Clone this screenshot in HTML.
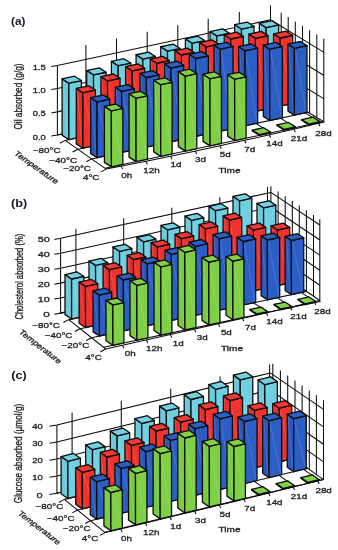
<!DOCTYPE html>
<html><head><meta charset="utf-8"><title>Figure</title>
<style>html,body{margin:0;padding:0;background:#fff}svg{display:block}</style></head>
<body>
<svg width="338" height="550" viewBox="0 0 338 550" font-family='"Liberation Sans", sans-serif'>
<rect width="338" height="550" fill="#fff"/>
<g>
<polygon points="57.4,135.3 270.5,89.5 270.5,19.8 57.4,65.8" fill="#fff"/>
<polygon points="270.5,89.5 324.2,122 324,52.4 270.5,19.8" fill="#fff"/>
<polygon points="57.4,135.3 270.5,89.5 324.2,122 106.2,169.1" fill="#fff"/>
<polyline points="51.3,66.6 57.4,65.56 270.5,19.8" fill="none" stroke="#0c0c0c" stroke-width="1.05"/>
<text x="45.8" y="70.1" font-size="7.7" text-anchor="end" fill="#222" textLength="13" lengthAdjust="spacingAndGlyphs" stroke="#222" stroke-width="0.3">1.5</text>
<polyline points="51.3,89.6 57.4,88.56 270.5,42.9" fill="none" stroke="#0c0c0c" stroke-width="1.05"/>
<text x="45.8" y="93.1" font-size="7.7" text-anchor="end" fill="#222" textLength="13" lengthAdjust="spacingAndGlyphs" stroke="#222" stroke-width="0.3">1.0</text>
<polyline points="51.3,112.9 57.4,111.86 270.5,66.3" fill="none" stroke="#0c0c0c" stroke-width="1.05"/>
<text x="45.8" y="116.4" font-size="7.7" text-anchor="end" fill="#222" textLength="13" lengthAdjust="spacingAndGlyphs" stroke="#222" stroke-width="0.3">0.5</text>
<polyline points="51.3,136 57.4,134.96 270.5,89.5" fill="none" stroke="#0c0c0c" stroke-width="1.05"/>
<text x="45.8" y="139.5" font-size="7.7" text-anchor="end" fill="#222" textLength="13" lengthAdjust="spacingAndGlyphs" stroke="#222" stroke-width="0.3">0.0</text>
<line x1="57.4" y1="65.56" x2="57.4" y2="134.96" stroke="#0c0c0c" stroke-width="1.05"/>
<line x1="85.9" y1="44.94" x2="85.9" y2="128.88" stroke="#0c0c0c" stroke-width="1.05"/>
<line x1="116.5" y1="38.37" x2="116.5" y2="122.35" stroke="#0c0c0c" stroke-width="1.05"/>
<line x1="147.2" y1="31.78" x2="147.2" y2="115.8" stroke="#0c0c0c" stroke-width="1.05"/>
<line x1="177.8" y1="25.21" x2="177.8" y2="109.28" stroke="#0c0c0c" stroke-width="1.05"/>
<line x1="208.2" y1="18.68" x2="208.2" y2="102.79" stroke="#0c0c0c" stroke-width="1.05"/>
<line x1="239.3" y1="12" x2="239.3" y2="96.16" stroke="#0c0c0c" stroke-width="1.05"/>
<line x1="270.5" y1="5.3" x2="270.5" y2="89.5" stroke="#0c0c0c" stroke-width="1.05"/>
<line x1="281.2" y1="12.82" x2="281.2" y2="95.98" stroke="#0c0c0c" stroke-width="1.05"/>
<line x1="288.2" y1="17.09" x2="288.2" y2="100.21" stroke="#0c0c0c" stroke-width="1.05"/>
<line x1="295.3" y1="21.41" x2="295.3" y2="104.51" stroke="#0c0c0c" stroke-width="1.05"/>
<line x1="302.5" y1="25.8" x2="302.5" y2="108.87" stroke="#0c0c0c" stroke-width="1.05"/>
<line x1="309.6" y1="30.13" x2="309.6" y2="113.16" stroke="#0c0c0c" stroke-width="1.05"/>
<line x1="316.8" y1="34.51" x2="316.8" y2="117.52" stroke="#0c0c0c" stroke-width="1.05"/>
<line x1="323.8" y1="38.78" x2="323.8" y2="121.76" stroke="#0c0c0c" stroke-width="1.05"/>
<line x1="270.5" y1="19.8" x2="324" y2="52.4" stroke="#0c0c0c" stroke-width="1.05"/>
<line x1="270.5" y1="42.9" x2="324.07" y2="75.47" stroke="#0c0c0c" stroke-width="1.05"/>
<line x1="270.5" y1="66.3" x2="324.13" y2="98.83" stroke="#0c0c0c" stroke-width="1.05"/>
<line x1="270.5" y1="89.5" x2="324.2" y2="122" stroke="#0c0c0c" stroke-width="1.05"/>
<line x1="57.4" y1="134.96" x2="270.5" y2="89.5" stroke="#0c0c0c" stroke-width="1.05"/>
<polyline points="106.2,169.1 124.37,165.54 142.53,161.92 160.7,158.22 178.87,154.47 197.03,150.64 215.2,146.75 233.37,142.79 251.53,138.77 269.7,134.68 287.87,130.52 306.03,126.29 324.2,122" fill="none" stroke="#0c0c0c" stroke-width="1.05"/>
<line x1="65.17" y1="140.4" x2="279.25" y2="94.8" stroke="#0c0c0c" stroke-width="1.05"/>
<line x1="65.17" y1="140.4" x2="106.2" y2="169.1" stroke="#0c0c0c" stroke-width="1.05"/>
<line x1="65.17" y1="140.4" x2="59.87" y2="143.2" stroke="#0c0c0c" stroke-width="1.05"/>
<line x1="77.86" y1="149.27" x2="293.41" y2="103.36" stroke="#0c0c0c" stroke-width="1.05"/>
<line x1="77.86" y1="149.27" x2="72.56" y2="152.07" stroke="#0c0c0c" stroke-width="1.05"/>
<line x1="91.6" y1="158.89" x2="308.07" y2="112.24" stroke="#0c0c0c" stroke-width="1.05"/>
<line x1="91.6" y1="158.89" x2="86.3" y2="161.69" stroke="#0c0c0c" stroke-width="1.05"/>
<line x1="105.01" y1="168.27" x2="323.55" y2="121.61" stroke="#0c0c0c" stroke-width="1.05"/>
<line x1="106.2" y1="169.1" x2="100.9" y2="171.9" stroke="#0c0c0c" stroke-width="1.05"/>
<line x1="71.88" y1="131.87" x2="122.8" y2="164.47" stroke="#0c0c0c" stroke-width="1.05"/>
<line x1="121.3" y1="166.15" x2="122.7" y2="169.15" stroke="#0c0c0c" stroke-width="1.05"/>
<line x1="96.54" y1="126.61" x2="147.46" y2="159.2" stroke="#0c0c0c" stroke-width="1.05"/>
<line x1="145.96" y1="161.23" x2="147.36" y2="164.23" stroke="#0c0c0c" stroke-width="1.05"/>
<line x1="121.21" y1="121.35" x2="172.12" y2="153.94" stroke="#0c0c0c" stroke-width="1.05"/>
<line x1="170.62" y1="156.18" x2="172.02" y2="159.18" stroke="#0c0c0c" stroke-width="1.05"/>
<line x1="145.87" y1="116.09" x2="196.78" y2="148.67" stroke="#0c0c0c" stroke-width="1.05"/>
<line x1="195.28" y1="151.01" x2="196.68" y2="154.01" stroke="#0c0c0c" stroke-width="1.05"/>
<line x1="170.53" y1="110.83" x2="221.44" y2="143.41" stroke="#0c0c0c" stroke-width="1.05"/>
<line x1="219.94" y1="145.72" x2="221.34" y2="148.72" stroke="#0c0c0c" stroke-width="1.05"/>
<line x1="195.2" y1="105.56" x2="246.1" y2="138.14" stroke="#0c0c0c" stroke-width="1.05"/>
<line x1="244.6" y1="140.31" x2="246" y2="143.31" stroke="#0c0c0c" stroke-width="1.05"/>
<line x1="219.86" y1="100.3" x2="270.76" y2="132.88" stroke="#0c0c0c" stroke-width="1.05"/>
<line x1="269.26" y1="134.77" x2="270.66" y2="137.77" stroke="#0c0c0c" stroke-width="1.05"/>
<line x1="244.53" y1="95.04" x2="295.42" y2="127.61" stroke="#0c0c0c" stroke-width="1.05"/>
<line x1="293.92" y1="129.12" x2="295.32" y2="132.12" stroke="#0c0c0c" stroke-width="1.05"/>
<line x1="269.19" y1="89.78" x2="320.08" y2="122.35" stroke="#0c0c0c" stroke-width="1.05"/>
<line x1="318.58" y1="123.33" x2="319.98" y2="126.33" stroke="#0c0c0c" stroke-width="1.05"/>
<polygon points="259.38,93.23 266.18,97.58 266.18,27.6 259.38,23.25" fill="#6ac9db" stroke="#0c0c0c" stroke-width="1.3" stroke-linejoin="round"/>
<polygon points="266.18,97.58 278.68,94.92 278.68,24.94 266.18,27.6" fill="#70cfe0" stroke="#0c0c0c" stroke-width="1.3" stroke-linejoin="round"/>
<polygon points="259.38,23.25 266.18,27.6 278.68,24.94 271.88,20.59" fill="#74d1e1" stroke="#0c0c0c" stroke-width="1.3" stroke-linejoin="round"/>
<path d="M266.98 29.1L277.88 93.92M260.18 24.75L265.38 96.08" stroke="#fff" stroke-opacity="0.22" stroke-width="0.6" fill="none"/>
<polygon points="234.72,98.48 241.52,102.83 241.52,29.05 234.72,24.7" fill="#6ac9db" stroke="#0c0c0c" stroke-width="1.3" stroke-linejoin="round"/>
<polygon points="241.52,102.83 254.02,100.17 254.02,26.39 241.52,29.05" fill="#70cfe0" stroke="#0c0c0c" stroke-width="1.3" stroke-linejoin="round"/>
<polygon points="234.72,24.7 241.52,29.05 254.02,26.39 247.22,22.04" fill="#74d1e1" stroke="#0c0c0c" stroke-width="1.3" stroke-linejoin="round"/>
<path d="M242.32 30.55L253.22 99.17M235.52 26.2L240.72 101.33" stroke="#fff" stroke-opacity="0.22" stroke-width="0.6" fill="none"/>
<polygon points="210.06,103.73 216.86,108.08 216.86,35.9 210.06,31.55" fill="#6ac9db" stroke="#0c0c0c" stroke-width="1.3" stroke-linejoin="round"/>
<polygon points="216.86,108.08 229.36,105.42 229.36,33.24 216.86,35.9" fill="#70cfe0" stroke="#0c0c0c" stroke-width="1.3" stroke-linejoin="round"/>
<polygon points="210.06,31.55 216.86,35.9 229.36,33.24 222.56,28.89" fill="#74d1e1" stroke="#0c0c0c" stroke-width="1.3" stroke-linejoin="round"/>
<path d="M217.66 37.4L228.56 104.42M210.86 33.05L216.06 106.58" stroke="#fff" stroke-opacity="0.22" stroke-width="0.6" fill="none"/>
<polygon points="185.4,108.99 192.2,113.34 192.2,43.2 185.4,38.85" fill="#6ac9db" stroke="#0c0c0c" stroke-width="1.3" stroke-linejoin="round"/>
<polygon points="192.2,113.34 204.7,110.67 204.7,40.54 192.2,43.2" fill="#70cfe0" stroke="#0c0c0c" stroke-width="1.3" stroke-linejoin="round"/>
<polygon points="185.4,38.85 192.2,43.2 204.7,40.54 197.9,36.19" fill="#74d1e1" stroke="#0c0c0c" stroke-width="1.3" stroke-linejoin="round"/>
<path d="M193 44.7L203.9 109.67M186.2 40.35L191.4 111.84" stroke="#fff" stroke-opacity="0.22" stroke-width="0.6" fill="none"/>
<polygon points="160.74,114.24 167.54,118.59 167.54,51.1 160.74,46.75" fill="#6ac9db" stroke="#0c0c0c" stroke-width="1.3" stroke-linejoin="round"/>
<polygon points="167.54,118.59 180.04,115.93 180.04,48.44 167.54,51.1" fill="#70cfe0" stroke="#0c0c0c" stroke-width="1.3" stroke-linejoin="round"/>
<polygon points="160.74,46.75 167.54,51.1 180.04,48.44 173.24,44.09" fill="#74d1e1" stroke="#0c0c0c" stroke-width="1.3" stroke-linejoin="round"/>
<path d="M168.34 52.6L179.24 114.93M161.54 48.25L166.74 117.09" stroke="#fff" stroke-opacity="0.22" stroke-width="0.6" fill="none"/>
<polygon points="136.08,119.49 142.88,123.84 142.88,59.1 136.08,54.75" fill="#6ac9db" stroke="#0c0c0c" stroke-width="1.3" stroke-linejoin="round"/>
<polygon points="142.88,123.84 155.38,121.18 155.38,56.44 142.88,59.1" fill="#70cfe0" stroke="#0c0c0c" stroke-width="1.3" stroke-linejoin="round"/>
<polygon points="136.08,54.75 142.88,59.1 155.38,56.44 148.58,52.09" fill="#74d1e1" stroke="#0c0c0c" stroke-width="1.3" stroke-linejoin="round"/>
<path d="M143.68 60.6L154.58 120.18M136.88 56.25L142.08 122.34" stroke="#fff" stroke-opacity="0.22" stroke-width="0.6" fill="none"/>
<polygon points="111.42,124.74 118.22,129.09 118.22,65.7 111.42,61.35" fill="#6ac9db" stroke="#0c0c0c" stroke-width="1.3" stroke-linejoin="round"/>
<polygon points="118.22,129.09 130.72,126.43 130.72,63.04 118.22,65.7" fill="#70cfe0" stroke="#0c0c0c" stroke-width="1.3" stroke-linejoin="round"/>
<polygon points="111.42,61.35 118.22,65.7 130.72,63.04 123.92,58.69" fill="#74d1e1" stroke="#0c0c0c" stroke-width="1.3" stroke-linejoin="round"/>
<path d="M119.02 67.2L129.92 125.43M112.22 62.85L117.42 127.59" stroke="#fff" stroke-opacity="0.22" stroke-width="0.6" fill="none"/>
<polygon points="86.76,130 93.56,134.35 93.56,74.9 86.76,70.55" fill="#6ac9db" stroke="#0c0c0c" stroke-width="1.3" stroke-linejoin="round"/>
<polygon points="93.56,134.35 106.06,131.68 106.06,72.24 93.56,74.9" fill="#70cfe0" stroke="#0c0c0c" stroke-width="1.3" stroke-linejoin="round"/>
<polygon points="86.76,70.55 93.56,74.9 106.06,72.24 99.26,67.89" fill="#74d1e1" stroke="#0c0c0c" stroke-width="1.3" stroke-linejoin="round"/>
<path d="M94.36 76.4L105.26 130.68M87.56 72.05L92.76 132.85" stroke="#fff" stroke-opacity="0.22" stroke-width="0.6" fill="none"/>
<polygon points="62.1,135.25 68.9,139.6 68.9,83.2 62.1,78.85" fill="#6ac9db" stroke="#0c0c0c" stroke-width="1.3" stroke-linejoin="round"/>
<polygon points="68.9,139.6 81.4,136.94 81.4,80.54 68.9,83.2" fill="#70cfe0" stroke="#0c0c0c" stroke-width="1.3" stroke-linejoin="round"/>
<polygon points="62.1,78.85 68.9,83.2 81.4,80.54 74.6,76.19" fill="#74d1e1" stroke="#0c0c0c" stroke-width="1.3" stroke-linejoin="round"/>
<path d="M69.7 84.7L80.6 135.94M62.9 80.35L68.1 138.1" stroke="#fff" stroke-opacity="0.22" stroke-width="0.6" fill="none"/>
<polygon points="273.58,101.96 280.18,106.18 280.18,38 273.58,33.78" fill="#ea2f2a" stroke="#0c0c0c" stroke-width="1.3" stroke-linejoin="round"/>
<polygon points="280.18,106.18 292.68,103.52 292.68,35.34 280.18,38" fill="#f0332d" stroke="#0c0c0c" stroke-width="1.3" stroke-linejoin="round"/>
<polygon points="273.58,33.78 280.18,38 292.68,35.34 286.08,31.11" fill="#f23a34" stroke="#0c0c0c" stroke-width="1.3" stroke-linejoin="round"/>
<path d="M280.98 39.5L291.88 102.52M274.38 35.28L279.38 104.68" stroke="#fff" stroke-opacity="0.22" stroke-width="0.6" fill="none"/>
<polygon points="248.92,107.21 255.52,111.43 255.52,38.3 248.92,34.08" fill="#ea2f2a" stroke="#0c0c0c" stroke-width="1.3" stroke-linejoin="round"/>
<polygon points="255.52,111.43 268.02,108.77 268.02,35.64 255.52,38.3" fill="#f0332d" stroke="#0c0c0c" stroke-width="1.3" stroke-linejoin="round"/>
<polygon points="248.92,34.08 255.52,38.3 268.02,35.64 261.42,31.41" fill="#f23a34" stroke="#0c0c0c" stroke-width="1.3" stroke-linejoin="round"/>
<path d="M256.32 39.8L267.22 107.77M249.72 35.58L254.72 109.93" stroke="#fff" stroke-opacity="0.22" stroke-width="0.6" fill="none"/>
<polygon points="224.26,112.46 230.86,116.68 230.86,39 224.26,34.78" fill="#ea2f2a" stroke="#0c0c0c" stroke-width="1.3" stroke-linejoin="round"/>
<polygon points="230.86,116.68 243.36,114.02 243.36,36.34 230.86,39" fill="#f0332d" stroke="#0c0c0c" stroke-width="1.3" stroke-linejoin="round"/>
<polygon points="224.26,34.78 230.86,39 243.36,36.34 236.76,32.11" fill="#f23a34" stroke="#0c0c0c" stroke-width="1.3" stroke-linejoin="round"/>
<path d="M231.66 40.5L242.56 113.02M225.06 36.28L230.06 115.18" stroke="#fff" stroke-opacity="0.22" stroke-width="0.6" fill="none"/>
<polygon points="199.6,117.71 206.2,121.94 206.2,46.8 199.6,42.58" fill="#ea2f2a" stroke="#0c0c0c" stroke-width="1.3" stroke-linejoin="round"/>
<polygon points="206.2,121.94 218.7,119.27 218.7,44.14 206.2,46.8" fill="#f0332d" stroke="#0c0c0c" stroke-width="1.3" stroke-linejoin="round"/>
<polygon points="199.6,42.58 206.2,46.8 218.7,44.14 212.1,39.91" fill="#f23a34" stroke="#0c0c0c" stroke-width="1.3" stroke-linejoin="round"/>
<path d="M207 48.3L217.9 118.27M200.4 44.08L205.4 120.44" stroke="#fff" stroke-opacity="0.22" stroke-width="0.6" fill="none"/>
<polygon points="174.94,122.97 181.54,127.19 181.54,55 174.94,50.78" fill="#ea2f2a" stroke="#0c0c0c" stroke-width="1.3" stroke-linejoin="round"/>
<polygon points="181.54,127.19 194.04,124.53 194.04,52.34 181.54,55" fill="#f0332d" stroke="#0c0c0c" stroke-width="1.3" stroke-linejoin="round"/>
<polygon points="174.94,50.78 181.54,55 194.04,52.34 187.44,48.11" fill="#f23a34" stroke="#0c0c0c" stroke-width="1.3" stroke-linejoin="round"/>
<path d="M182.34 56.5L193.24 123.53M175.74 52.28L180.74 125.69" stroke="#fff" stroke-opacity="0.22" stroke-width="0.6" fill="none"/>
<polygon points="150.28,128.22 156.88,132.44 156.88,63.25 150.28,59.03" fill="#ea2f2a" stroke="#0c0c0c" stroke-width="1.3" stroke-linejoin="round"/>
<polygon points="156.88,132.44 169.38,129.78 169.38,60.59 156.88,63.25" fill="#f0332d" stroke="#0c0c0c" stroke-width="1.3" stroke-linejoin="round"/>
<polygon points="150.28,59.03 156.88,63.25 169.38,60.59 162.78,56.36" fill="#f23a34" stroke="#0c0c0c" stroke-width="1.3" stroke-linejoin="round"/>
<path d="M157.68 64.75L168.58 128.78M151.08 60.53L156.08 130.94" stroke="#fff" stroke-opacity="0.22" stroke-width="0.6" fill="none"/>
<polygon points="125.62,133.47 132.22,137.69 132.22,70.9 125.62,66.68" fill="#ea2f2a" stroke="#0c0c0c" stroke-width="1.3" stroke-linejoin="round"/>
<polygon points="132.22,137.69 144.72,135.03 144.72,68.24 132.22,70.9" fill="#f0332d" stroke="#0c0c0c" stroke-width="1.3" stroke-linejoin="round"/>
<polygon points="125.62,66.68 132.22,70.9 144.72,68.24 138.12,64.01" fill="#f23a34" stroke="#0c0c0c" stroke-width="1.3" stroke-linejoin="round"/>
<path d="M133.02 72.4L143.92 134.03M126.42 68.18L131.42 136.19" stroke="#fff" stroke-opacity="0.22" stroke-width="0.6" fill="none"/>
<polygon points="100.96,138.72 107.56,142.95 107.56,80.9 100.96,76.68" fill="#ea2f2a" stroke="#0c0c0c" stroke-width="1.3" stroke-linejoin="round"/>
<polygon points="107.56,142.95 120.06,140.28 120.06,78.24 107.56,80.9" fill="#f0332d" stroke="#0c0c0c" stroke-width="1.3" stroke-linejoin="round"/>
<polygon points="100.96,76.68 107.56,80.9 120.06,78.24 113.46,74.01" fill="#f23a34" stroke="#0c0c0c" stroke-width="1.3" stroke-linejoin="round"/>
<path d="M108.36 82.4L119.26 139.28M101.76 78.18L106.76 141.45" stroke="#fff" stroke-opacity="0.22" stroke-width="0.6" fill="none"/>
<polygon points="76.3,143.98 82.9,148.2 82.9,92.7 76.3,88.48" fill="#ea2f2a" stroke="#0c0c0c" stroke-width="1.3" stroke-linejoin="round"/>
<polygon points="82.9,148.2 95.4,145.54 95.4,90.04 82.9,92.7" fill="#f0332d" stroke="#0c0c0c" stroke-width="1.3" stroke-linejoin="round"/>
<polygon points="76.3,88.48 82.9,92.7 95.4,90.04 88.8,85.81" fill="#f23a34" stroke="#0c0c0c" stroke-width="1.3" stroke-linejoin="round"/>
<path d="M83.7 94.2L94.6 144.54M77.1 89.98L82.1 146.7" stroke="#fff" stroke-opacity="0.22" stroke-width="0.6" fill="none"/>
<polygon points="287.98,111.09 294.38,115.19 294.38,48.3 287.98,44.2" fill="#2858bc" stroke="#0c0c0c" stroke-width="1.3" stroke-linejoin="round"/>
<polygon points="294.38,115.19 306.98,112.47 306.98,45.58 294.38,48.3" fill="#2c5fc6" stroke="#0c0c0c" stroke-width="1.3" stroke-linejoin="round"/>
<polygon points="287.98,44.2 294.38,48.3 306.98,45.58 300.58,41.49" fill="#2c5ec4" stroke="#0c0c0c" stroke-width="1.3" stroke-linejoin="round"/>
<path d="M295.18 49.8L306.18 111.47M288.78 45.7L293.58 113.69" stroke="#fff" stroke-opacity="0.22" stroke-width="0.6" fill="none"/>
<polygon points="263.32,116.4 269.72,120.5 269.72,49.2 263.32,45.1" fill="#2858bc" stroke="#0c0c0c" stroke-width="1.3" stroke-linejoin="round"/>
<polygon points="269.72,120.5 282.32,117.79 282.32,46.48 269.72,49.2" fill="#2c5fc6" stroke="#0c0c0c" stroke-width="1.3" stroke-linejoin="round"/>
<polygon points="263.32,45.1 269.72,49.2 282.32,46.48 275.92,42.39" fill="#2c5ec4" stroke="#0c0c0c" stroke-width="1.3" stroke-linejoin="round"/>
<path d="M270.52 50.7L281.52 116.79M264.12 46.6L268.92 119" stroke="#fff" stroke-opacity="0.22" stroke-width="0.6" fill="none"/>
<polygon points="238.66,121.72 245.06,125.81 245.06,50.8 238.66,46.7" fill="#2858bc" stroke="#0c0c0c" stroke-width="1.3" stroke-linejoin="round"/>
<polygon points="245.06,125.81 257.66,123.1 257.66,48.08 245.06,50.8" fill="#2c5fc6" stroke="#0c0c0c" stroke-width="1.3" stroke-linejoin="round"/>
<polygon points="238.66,46.7 245.06,50.8 257.66,48.08 251.26,43.99" fill="#2c5ec4" stroke="#0c0c0c" stroke-width="1.3" stroke-linejoin="round"/>
<path d="M245.86 52.3L256.86 122.1M239.46 48.2L244.26 124.31" stroke="#fff" stroke-opacity="0.22" stroke-width="0.6" fill="none"/>
<polygon points="214,127.03 220.4,131.13 220.4,49.2 214,45.1" fill="#2858bc" stroke="#0c0c0c" stroke-width="1.3" stroke-linejoin="round"/>
<polygon points="220.4,131.13 233,128.41 233,46.48 220.4,49.2" fill="#2c5fc6" stroke="#0c0c0c" stroke-width="1.3" stroke-linejoin="round"/>
<polygon points="214,45.1 220.4,49.2 233,46.48 226.6,42.39" fill="#2c5ec4" stroke="#0c0c0c" stroke-width="1.3" stroke-linejoin="round"/>
<path d="M221.2 50.7L232.2 127.41M214.8 46.6L219.6 129.63" stroke="#fff" stroke-opacity="0.22" stroke-width="0.6" fill="none"/>
<polygon points="189.34,132.35 195.74,136.44 195.74,58.5 189.34,54.4" fill="#2858bc" stroke="#0c0c0c" stroke-width="1.3" stroke-linejoin="round"/>
<polygon points="195.74,136.44 208.34,133.73 208.34,55.78 195.74,58.5" fill="#2c5fc6" stroke="#0c0c0c" stroke-width="1.3" stroke-linejoin="round"/>
<polygon points="189.34,54.4 195.74,58.5 208.34,55.78 201.94,51.69" fill="#2c5ec4" stroke="#0c0c0c" stroke-width="1.3" stroke-linejoin="round"/>
<path d="M196.54 60L207.54 132.73M190.14 55.9L194.94 134.94" stroke="#fff" stroke-opacity="0.22" stroke-width="0.6" fill="none"/>
<polygon points="164.68,137.66 171.08,141.76 171.08,68 164.68,63.9" fill="#2858bc" stroke="#0c0c0c" stroke-width="1.3" stroke-linejoin="round"/>
<polygon points="171.08,141.76 183.68,139.04 183.68,65.28 171.08,68" fill="#2c5fc6" stroke="#0c0c0c" stroke-width="1.3" stroke-linejoin="round"/>
<polygon points="164.68,63.9 171.08,68 183.68,65.28 177.28,61.19" fill="#2c5ec4" stroke="#0c0c0c" stroke-width="1.3" stroke-linejoin="round"/>
<path d="M171.88 69.5L182.88 138.04M165.48 65.4L170.28 140.26" stroke="#fff" stroke-opacity="0.22" stroke-width="0.6" fill="none"/>
<polygon points="140.02,142.98 146.42,147.07 146.42,77.5 140.02,73.4" fill="#2858bc" stroke="#0c0c0c" stroke-width="1.3" stroke-linejoin="round"/>
<polygon points="146.42,147.07 159.02,144.36 159.02,74.78 146.42,77.5" fill="#2c5fc6" stroke="#0c0c0c" stroke-width="1.3" stroke-linejoin="round"/>
<polygon points="140.02,73.4 146.42,77.5 159.02,74.78 152.62,70.69" fill="#2c5ec4" stroke="#0c0c0c" stroke-width="1.3" stroke-linejoin="round"/>
<path d="M147.22 79L158.22 143.36M140.82 74.9L145.62 145.57" stroke="#fff" stroke-opacity="0.22" stroke-width="0.6" fill="none"/>
<polygon points="115.36,148.29 121.76,152.39 121.76,91.4 115.36,87.3" fill="#2858bc" stroke="#0c0c0c" stroke-width="1.3" stroke-linejoin="round"/>
<polygon points="121.76,152.39 134.36,149.67 134.36,88.68 121.76,91.4" fill="#2c5fc6" stroke="#0c0c0c" stroke-width="1.3" stroke-linejoin="round"/>
<polygon points="115.36,87.3 121.76,91.4 134.36,88.68 127.96,84.59" fill="#2c5ec4" stroke="#0c0c0c" stroke-width="1.3" stroke-linejoin="round"/>
<path d="M122.56 92.9L133.56 148.67M116.16 88.8L120.96 150.89" stroke="#fff" stroke-opacity="0.22" stroke-width="0.6" fill="none"/>
<polygon points="90.7,153.6 97.1,157.7 97.1,101.8 90.7,97.7" fill="#2858bc" stroke="#0c0c0c" stroke-width="1.3" stroke-linejoin="round"/>
<polygon points="97.1,157.7 109.7,154.98 109.7,99.08 97.1,101.8" fill="#2c5fc6" stroke="#0c0c0c" stroke-width="1.3" stroke-linejoin="round"/>
<polygon points="90.7,97.7 97.1,101.8 109.7,99.08 103.3,94.99" fill="#2c5ec4" stroke="#0c0c0c" stroke-width="1.3" stroke-linejoin="round"/>
<path d="M97.9 103.3L108.9 153.98M91.5 99.2L96.3 156.2" stroke="#fff" stroke-opacity="0.22" stroke-width="0.6" fill="none"/>
<polygon points="301.68,120.3 308.68,124.78 308.68,124.08 301.68,119.6" fill="#79ca3f" stroke="#0c0c0c" stroke-width="1.3" stroke-linejoin="round"/>
<polygon points="308.68,124.78 320.08,122.35 320.08,121.65 308.68,124.08" fill="#7fd045" stroke="#0c0c0c" stroke-width="1.3" stroke-linejoin="round"/>
<polygon points="301.68,119.6 308.68,124.08 320.08,121.65 313.08,117.17" fill="#82d249" stroke="#0c0c0c" stroke-width="1.3" stroke-linejoin="round"/>
<polygon points="277.02,125.57 284.02,130.05 284.02,129.35 277.02,124.87" fill="#79ca3f" stroke="#0c0c0c" stroke-width="1.3" stroke-linejoin="round"/>
<polygon points="284.02,130.05 295.42,127.61 295.42,126.91 284.02,129.35" fill="#7fd045" stroke="#0c0c0c" stroke-width="1.3" stroke-linejoin="round"/>
<polygon points="277.02,124.87 284.02,129.35 295.42,126.91 288.42,122.43" fill="#82d249" stroke="#0c0c0c" stroke-width="1.3" stroke-linejoin="round"/>
<polygon points="252.36,130.83 259.36,135.31 259.36,134.61 252.36,130.13" fill="#79ca3f" stroke="#0c0c0c" stroke-width="1.3" stroke-linejoin="round"/>
<polygon points="259.36,135.31 270.76,132.88 270.76,132.18 259.36,134.61" fill="#7fd045" stroke="#0c0c0c" stroke-width="1.3" stroke-linejoin="round"/>
<polygon points="252.36,130.13 259.36,134.61 270.76,132.18 263.76,127.7" fill="#82d249" stroke="#0c0c0c" stroke-width="1.3" stroke-linejoin="round"/>
<polygon points="227.7,136.1 234.7,140.58 234.7,79.2 227.7,74.72" fill="#79ca3f" stroke="#0c0c0c" stroke-width="1.3" stroke-linejoin="round"/>
<polygon points="234.7,140.58 246.1,138.14 246.1,76.77 234.7,79.2" fill="#7fd045" stroke="#0c0c0c" stroke-width="1.3" stroke-linejoin="round"/>
<polygon points="227.7,74.72 234.7,79.2 246.1,76.77 239.1,72.29" fill="#82d249" stroke="#0c0c0c" stroke-width="1.3" stroke-linejoin="round"/>
<path d="M235.5 80.7L245.3 137.14M228.5 76.22L233.9 139.08" stroke="#fff" stroke-opacity="0.22" stroke-width="0.6" fill="none"/>
<polygon points="203.04,141.36 210.04,145.84 210.04,78.7 203.04,74.22" fill="#79ca3f" stroke="#0c0c0c" stroke-width="1.3" stroke-linejoin="round"/>
<polygon points="210.04,145.84 221.44,143.41 221.44,76.27 210.04,78.7" fill="#7fd045" stroke="#0c0c0c" stroke-width="1.3" stroke-linejoin="round"/>
<polygon points="203.04,74.22 210.04,78.7 221.44,76.27 214.44,71.79" fill="#82d249" stroke="#0c0c0c" stroke-width="1.3" stroke-linejoin="round"/>
<path d="M210.84 80.2L220.64 142.41M203.84 75.72L209.24 144.34" stroke="#fff" stroke-opacity="0.22" stroke-width="0.6" fill="none"/>
<polygon points="178.38,146.63 185.38,151.11 185.38,76.1 178.38,71.62" fill="#79ca3f" stroke="#0c0c0c" stroke-width="1.3" stroke-linejoin="round"/>
<polygon points="185.38,151.11 196.78,148.67 196.78,73.67 185.38,76.1" fill="#7fd045" stroke="#0c0c0c" stroke-width="1.3" stroke-linejoin="round"/>
<polygon points="178.38,71.62 185.38,76.1 196.78,73.67 189.78,69.19" fill="#82d249" stroke="#0c0c0c" stroke-width="1.3" stroke-linejoin="round"/>
<path d="M186.18 77.6L195.98 147.67M179.18 73.12L184.58 149.61" stroke="#fff" stroke-opacity="0.22" stroke-width="0.6" fill="none"/>
<polygon points="153.72,151.89 160.72,156.37 160.72,84.7 153.72,80.22" fill="#79ca3f" stroke="#0c0c0c" stroke-width="1.3" stroke-linejoin="round"/>
<polygon points="160.72,156.37 172.12,153.94 172.12,82.27 160.72,84.7" fill="#7fd045" stroke="#0c0c0c" stroke-width="1.3" stroke-linejoin="round"/>
<polygon points="153.72,80.22 160.72,84.7 172.12,82.27 165.12,77.79" fill="#82d249" stroke="#0c0c0c" stroke-width="1.3" stroke-linejoin="round"/>
<path d="M161.52 86.2L171.32 152.94M154.52 81.72L159.92 154.87" stroke="#fff" stroke-opacity="0.22" stroke-width="0.6" fill="none"/>
<polygon points="129.06,157.16 136.06,161.64 136.06,98.2 129.06,93.72" fill="#79ca3f" stroke="#0c0c0c" stroke-width="1.3" stroke-linejoin="round"/>
<polygon points="136.06,161.64 147.46,159.2 147.46,95.77 136.06,98.2" fill="#7fd045" stroke="#0c0c0c" stroke-width="1.3" stroke-linejoin="round"/>
<polygon points="129.06,93.72 136.06,98.2 147.46,95.77 140.46,91.29" fill="#82d249" stroke="#0c0c0c" stroke-width="1.3" stroke-linejoin="round"/>
<path d="M136.86 99.7L146.66 158.2M129.86 95.22L135.26 160.14" stroke="#fff" stroke-opacity="0.22" stroke-width="0.6" fill="none"/>
<polygon points="104.4,162.42 111.4,166.9 111.4,110.9 104.4,106.42" fill="#79ca3f" stroke="#0c0c0c" stroke-width="1.3" stroke-linejoin="round"/>
<polygon points="111.4,166.9 122.8,164.47 122.8,108.47 111.4,110.9" fill="#7fd045" stroke="#0c0c0c" stroke-width="1.3" stroke-linejoin="round"/>
<polygon points="104.4,106.42 111.4,110.9 122.8,108.47 115.8,103.99" fill="#82d249" stroke="#0c0c0c" stroke-width="1.3" stroke-linejoin="round"/>
<path d="M112.2 112.4L122 163.47M105.2 107.92L110.6 165.4" stroke="#fff" stroke-opacity="0.22" stroke-width="0.6" fill="none"/>
<text x="126.8" y="178.05" font-size="7.7" text-anchor="middle" fill="#222" textLength="10.96" lengthAdjust="spacingAndGlyphs" stroke="#222" stroke-width="0.3">0h</text>
<text x="151.4" y="172.75" font-size="7.7" text-anchor="middle" fill="#222" textLength="16.44" lengthAdjust="spacingAndGlyphs" stroke="#222" stroke-width="0.3">12h</text>
<text x="176" y="167.45" font-size="7.7" text-anchor="middle" fill="#222" textLength="10.96" lengthAdjust="spacingAndGlyphs" stroke="#222" stroke-width="0.3">1d</text>
<text x="200.6" y="162.15" font-size="7.7" text-anchor="middle" fill="#222" textLength="10.96" lengthAdjust="spacingAndGlyphs" stroke="#222" stroke-width="0.3">3d</text>
<text x="225.2" y="156.85" font-size="7.7" text-anchor="middle" fill="#222" textLength="10.96" lengthAdjust="spacingAndGlyphs" stroke="#222" stroke-width="0.3">5d</text>
<text x="249.8" y="151.55" font-size="7.7" text-anchor="middle" fill="#222" textLength="10.96" lengthAdjust="spacingAndGlyphs" stroke="#222" stroke-width="0.3">7d</text>
<text x="274.4" y="146.25" font-size="7.7" text-anchor="middle" fill="#222" textLength="16.44" lengthAdjust="spacingAndGlyphs" stroke="#222" stroke-width="0.3">14d</text>
<text x="299" y="140.95" font-size="7.7" text-anchor="middle" fill="#222" textLength="16.44" lengthAdjust="spacingAndGlyphs" stroke="#222" stroke-width="0.3">21d</text>
<text x="323.6" y="135.65" font-size="7.7" text-anchor="middle" fill="#222" textLength="16.44" lengthAdjust="spacingAndGlyphs" stroke="#222" stroke-width="0.3">28d</text>
<text x="229.6" y="172.95" font-size="7.7" text-anchor="middle" fill="#222" textLength="22" lengthAdjust="spacingAndGlyphs" stroke="#222" stroke-width="0.3">Time</text>
<text x="60.6" y="153.35" font-size="7.7" text-anchor="end" fill="#222" textLength="27.78" lengthAdjust="spacingAndGlyphs" stroke="#222" stroke-width="0.3">−80°C</text>
<text x="77.1" y="162.75" font-size="7.7" text-anchor="end" fill="#222" textLength="27.78" lengthAdjust="spacingAndGlyphs" stroke="#222" stroke-width="0.3">−40°C</text>
<text x="91" y="171.35" font-size="7.7" text-anchor="end" fill="#222" textLength="27.78" lengthAdjust="spacingAndGlyphs" stroke="#222" stroke-width="0.3">−20°C</text>
<text x="99.5" y="179.95" font-size="7.7" text-anchor="end" fill="#222" textLength="16.54" lengthAdjust="spacingAndGlyphs" stroke="#222" stroke-width="0.3">4°C</text>
<text x="0" y="2.75" font-size="7.7" text-anchor="middle" fill="#222" textLength="51.5" lengthAdjust="spacingAndGlyphs" stroke="#222" stroke-width="0.3" transform="translate(36.6 167.3) rotate(35.3) skewX(-12)">Temperature</text>
<text x="0" y="0" font-size="11.6" text-anchor="middle" fill="#222" textLength="66.2" lengthAdjust="spacingAndGlyphs" stroke="#222" stroke-width="0.35" transform="translate(21.6 96.5) rotate(-90)">Oil absorbed (g/g)</text>
<text x="11" y="25.4" font-size="10.2" text-anchor="start" fill="#1c1c28" textLength="14.4" lengthAdjust="spacingAndGlyphs" font-weight="bold">(a)</text>
</g>
<g>
<polygon points="60.6,314 270.9,267 270.9,192.4 60.6,239.3" fill="#fff"/>
<polygon points="270.9,267 319.8,300.5 319.8,225 270.9,192.4" fill="#fff"/>
<polygon points="60.6,314 270.9,267 319.8,300.5 105.7,349" fill="#fff"/>
<polyline points="54.3,239.4 60.6,238.33 270.9,192.4" fill="none" stroke="#0c0c0c" stroke-width="1.05"/>
<text x="49.7" y="241.9" font-size="7.7" text-anchor="end" fill="#222" textLength="12" lengthAdjust="spacingAndGlyphs" stroke="#222" stroke-width="0.3">50</text>
<polyline points="54.3,254.3 60.6,253.23 270.9,207.26" fill="none" stroke="#0c0c0c" stroke-width="1.05"/>
<text x="49.7" y="256.8" font-size="7.7" text-anchor="end" fill="#222" textLength="12" lengthAdjust="spacingAndGlyphs" stroke="#222" stroke-width="0.3">40</text>
<polyline points="54.3,269.3 60.6,268.23 270.9,222.22" fill="none" stroke="#0c0c0c" stroke-width="1.05"/>
<text x="49.7" y="271.8" font-size="7.7" text-anchor="end" fill="#222" textLength="12" lengthAdjust="spacingAndGlyphs" stroke="#222" stroke-width="0.3">30</text>
<polyline points="54.3,284.2 60.6,283.13 270.9,237.08" fill="none" stroke="#0c0c0c" stroke-width="1.05"/>
<text x="49.7" y="286.7" font-size="7.7" text-anchor="end" fill="#222" textLength="12" lengthAdjust="spacingAndGlyphs" stroke="#222" stroke-width="0.3">20</text>
<polyline points="54.3,299.1 60.6,298.03 270.9,251.94" fill="none" stroke="#0c0c0c" stroke-width="1.05"/>
<text x="49.7" y="301.6" font-size="7.7" text-anchor="end" fill="#222" textLength="12" lengthAdjust="spacingAndGlyphs" stroke="#222" stroke-width="0.3">10</text>
<polyline points="54.3,314.2 60.6,313.13 270.9,267" fill="none" stroke="#0c0c0c" stroke-width="1.05"/>
<text x="49.7" y="316.7" font-size="7.7" text-anchor="end" fill="#222" textLength="6.5" lengthAdjust="spacingAndGlyphs" stroke="#222" stroke-width="0.3">0</text>
<line x1="60.6" y1="238.33" x2="60.6" y2="313.13" stroke="#0c0c0c" stroke-width="1.05"/>
<line x1="75.9" y1="228.79" x2="75.9" y2="309.77" stroke="#0c0c0c" stroke-width="1.05"/>
<line x1="123.7" y1="218.35" x2="123.7" y2="299.29" stroke="#0c0c0c" stroke-width="1.05"/>
<line x1="171.8" y1="207.84" x2="171.8" y2="288.74" stroke="#0c0c0c" stroke-width="1.05"/>
<line x1="219.8" y1="197.36" x2="219.8" y2="278.21" stroke="#0c0c0c" stroke-width="1.05"/>
<line x1="267.5" y1="186.94" x2="267.5" y2="267.75" stroke="#0c0c0c" stroke-width="1.05"/>
<line x1="270.9" y1="186.2" x2="270.9" y2="267" stroke="#0c0c0c" stroke-width="1.05"/>
<line x1="278.1" y1="191.4" x2="278.1" y2="271.93" stroke="#0c0c0c" stroke-width="1.05"/>
<line x1="285.2" y1="196.13" x2="285.2" y2="276.8" stroke="#0c0c0c" stroke-width="1.05"/>
<line x1="292.3" y1="200.87" x2="292.3" y2="281.66" stroke="#0c0c0c" stroke-width="1.05"/>
<line x1="299.3" y1="205.53" x2="299.3" y2="286.46" stroke="#0c0c0c" stroke-width="1.05"/>
<line x1="306.4" y1="210.27" x2="306.4" y2="291.32" stroke="#0c0c0c" stroke-width="1.05"/>
<line x1="313.5" y1="215" x2="313.5" y2="296.18" stroke="#0c0c0c" stroke-width="1.05"/>
<line x1="319.8" y1="219.2" x2="319.8" y2="300.5" stroke="#0c0c0c" stroke-width="1.05"/>
<line x1="270.9" y1="192.4" x2="319.8" y2="225" stroke="#0c0c0c" stroke-width="1.05"/>
<line x1="270.9" y1="207.26" x2="319.8" y2="240.04" stroke="#0c0c0c" stroke-width="1.05"/>
<line x1="270.9" y1="222.22" x2="319.8" y2="255.18" stroke="#0c0c0c" stroke-width="1.05"/>
<line x1="270.9" y1="237.08" x2="319.8" y2="270.22" stroke="#0c0c0c" stroke-width="1.05"/>
<line x1="270.9" y1="251.94" x2="319.8" y2="285.26" stroke="#0c0c0c" stroke-width="1.05"/>
<line x1="270.9" y1="267" x2="319.8" y2="300.5" stroke="#0c0c0c" stroke-width="1.05"/>
<line x1="60.6" y1="313.13" x2="270.9" y2="267" stroke="#0c0c0c" stroke-width="1.05"/>
<polyline points="105.7,349 123.54,345.05 141.38,341.08 159.23,337.1 177.07,333.1 194.91,329.08 212.75,325.05 230.59,321 248.43,316.93 266.28,312.85 284.12,308.75 301.96,304.63 319.8,300.5" fill="none" stroke="#0c0c0c" stroke-width="1.05"/>
<line x1="68.76" y1="319.62" x2="280.14" y2="273.33" stroke="#0c0c0c" stroke-width="1.05"/>
<line x1="68.76" y1="319.62" x2="105.7" y2="349" stroke="#0c0c0c" stroke-width="1.05"/>
<line x1="68.76" y1="319.62" x2="63.46" y2="322.42" stroke="#0c0c0c" stroke-width="1.05"/>
<line x1="80.14" y1="328.67" x2="293.14" y2="282.23" stroke="#0c0c0c" stroke-width="1.05"/>
<line x1="80.14" y1="328.67" x2="74.84" y2="331.47" stroke="#0c0c0c" stroke-width="1.05"/>
<line x1="91.5" y1="337.7" x2="306.48" y2="291.37" stroke="#0c0c0c" stroke-width="1.05"/>
<line x1="91.5" y1="337.7" x2="86.2" y2="340.5" stroke="#0c0c0c" stroke-width="1.05"/>
<line x1="103.55" y1="347.29" x2="320.75" y2="301.15" stroke="#0c0c0c" stroke-width="1.05"/>
<line x1="105.7" y1="349" x2="100.4" y2="351.8" stroke="#0c0c0c" stroke-width="1.05"/>
<line x1="74.18" y1="310.15" x2="123.9" y2="342.96" stroke="#0c0c0c" stroke-width="1.05"/>
<line x1="122.4" y1="345.3" x2="123.8" y2="348.3" stroke="#0c0c0c" stroke-width="1.05"/>
<line x1="97.99" y1="304.93" x2="147.9" y2="337.87" stroke="#0c0c0c" stroke-width="1.05"/>
<line x1="146.4" y1="339.96" x2="147.8" y2="342.96" stroke="#0c0c0c" stroke-width="1.05"/>
<line x1="121.8" y1="299.7" x2="171.9" y2="332.77" stroke="#0c0c0c" stroke-width="1.05"/>
<line x1="170.4" y1="334.6" x2="171.8" y2="337.6" stroke="#0c0c0c" stroke-width="1.05"/>
<line x1="145.61" y1="294.48" x2="195.9" y2="327.67" stroke="#0c0c0c" stroke-width="1.05"/>
<line x1="194.4" y1="329.2" x2="195.8" y2="332.2" stroke="#0c0c0c" stroke-width="1.05"/>
<line x1="169.42" y1="289.26" x2="219.9" y2="322.57" stroke="#0c0c0c" stroke-width="1.05"/>
<line x1="218.4" y1="323.77" x2="219.8" y2="326.77" stroke="#0c0c0c" stroke-width="1.05"/>
<line x1="193.23" y1="284.04" x2="243.9" y2="317.48" stroke="#0c0c0c" stroke-width="1.05"/>
<line x1="242.4" y1="318.31" x2="243.8" y2="321.31" stroke="#0c0c0c" stroke-width="1.05"/>
<line x1="217.04" y1="278.81" x2="267.9" y2="312.38" stroke="#0c0c0c" stroke-width="1.05"/>
<line x1="266.4" y1="312.82" x2="267.8" y2="315.82" stroke="#0c0c0c" stroke-width="1.05"/>
<line x1="240.85" y1="273.59" x2="291.9" y2="307.28" stroke="#0c0c0c" stroke-width="1.05"/>
<line x1="290.4" y1="307.3" x2="291.8" y2="310.3" stroke="#0c0c0c" stroke-width="1.05"/>
<line x1="264.66" y1="268.37" x2="315.9" y2="302.18" stroke="#0c0c0c" stroke-width="1.05"/>
<line x1="314.4" y1="301.75" x2="315.8" y2="304.75" stroke="#0c0c0c" stroke-width="1.05"/>
<polygon points="257,272.6 263.6,276.95 263.6,207.8 257,203.44" fill="#6ac9db" stroke="#0c0c0c" stroke-width="1.3" stroke-linejoin="round"/>
<polygon points="263.6,276.95 275.8,274.28 275.8,205.13 263.6,207.8" fill="#70cfe0" stroke="#0c0c0c" stroke-width="1.3" stroke-linejoin="round"/>
<polygon points="257,203.44 263.6,207.8 275.8,205.13 269.2,200.77" fill="#74d1e1" stroke="#0c0c0c" stroke-width="1.3" stroke-linejoin="round"/>
<path d="M264.4 209.3L275 273.28M257.8 204.94L262.8 275.45" stroke="#fff" stroke-opacity="0.22" stroke-width="0.6" fill="none"/>
<polygon points="233,277.85 239.6,282.21 239.6,200.8 233,196.44" fill="#6ac9db" stroke="#0c0c0c" stroke-width="1.3" stroke-linejoin="round"/>
<polygon points="239.6,282.21 251.8,279.54 251.8,198.13 239.6,200.8" fill="#70cfe0" stroke="#0c0c0c" stroke-width="1.3" stroke-linejoin="round"/>
<polygon points="233,196.44 239.6,200.8 251.8,198.13 245.2,193.77" fill="#74d1e1" stroke="#0c0c0c" stroke-width="1.3" stroke-linejoin="round"/>
<path d="M240.4 202.3L251 278.54M233.8 197.94L238.8 280.71" stroke="#fff" stroke-opacity="0.22" stroke-width="0.6" fill="none"/>
<polygon points="209,283.11 215.6,287.46 215.6,210.7 209,206.34" fill="#6ac9db" stroke="#0c0c0c" stroke-width="1.3" stroke-linejoin="round"/>
<polygon points="215.6,287.46 227.8,284.79 227.8,208.03 215.6,210.7" fill="#70cfe0" stroke="#0c0c0c" stroke-width="1.3" stroke-linejoin="round"/>
<polygon points="209,206.34 215.6,210.7 227.8,208.03 221.2,203.67" fill="#74d1e1" stroke="#0c0c0c" stroke-width="1.3" stroke-linejoin="round"/>
<path d="M216.4 212.2L227 283.79M209.8 207.84L214.8 285.96" stroke="#fff" stroke-opacity="0.22" stroke-width="0.6" fill="none"/>
<polygon points="185,288.36 191.6,292.72 191.6,220.4 185,216.04" fill="#6ac9db" stroke="#0c0c0c" stroke-width="1.3" stroke-linejoin="round"/>
<polygon points="191.6,292.72 203.8,290.05 203.8,217.73 191.6,220.4" fill="#70cfe0" stroke="#0c0c0c" stroke-width="1.3" stroke-linejoin="round"/>
<polygon points="185,216.04 191.6,220.4 203.8,217.73 197.2,213.37" fill="#74d1e1" stroke="#0c0c0c" stroke-width="1.3" stroke-linejoin="round"/>
<path d="M192.4 221.9L203 289.05M185.8 217.54L190.8 291.22" stroke="#fff" stroke-opacity="0.22" stroke-width="0.6" fill="none"/>
<polygon points="161,293.62 167.6,297.98 167.6,229.8 161,225.44" fill="#6ac9db" stroke="#0c0c0c" stroke-width="1.3" stroke-linejoin="round"/>
<polygon points="167.6,297.98 179.8,295.3 179.8,227.13 167.6,229.8" fill="#70cfe0" stroke="#0c0c0c" stroke-width="1.3" stroke-linejoin="round"/>
<polygon points="161,225.44 167.6,229.8 179.8,227.13 173.2,222.77" fill="#74d1e1" stroke="#0c0c0c" stroke-width="1.3" stroke-linejoin="round"/>
<path d="M168.4 231.3L179 294.3M161.8 226.94L166.8 296.48" stroke="#fff" stroke-opacity="0.22" stroke-width="0.6" fill="none"/>
<polygon points="137,298.88 143.6,303.23 143.6,241.8 137,237.44" fill="#6ac9db" stroke="#0c0c0c" stroke-width="1.3" stroke-linejoin="round"/>
<polygon points="143.6,303.23 155.8,300.56 155.8,239.13 143.6,241.8" fill="#70cfe0" stroke="#0c0c0c" stroke-width="1.3" stroke-linejoin="round"/>
<polygon points="137,237.44 143.6,241.8 155.8,239.13 149.2,234.77" fill="#74d1e1" stroke="#0c0c0c" stroke-width="1.3" stroke-linejoin="round"/>
<path d="M144.4 243.3L155 299.56M137.8 238.94L142.8 301.73" stroke="#fff" stroke-opacity="0.22" stroke-width="0.6" fill="none"/>
<polygon points="113,304.13 119.6,308.49 119.6,251.3 113,246.94" fill="#6ac9db" stroke="#0c0c0c" stroke-width="1.3" stroke-linejoin="round"/>
<polygon points="119.6,308.49 131.8,305.82 131.8,248.63 119.6,251.3" fill="#70cfe0" stroke="#0c0c0c" stroke-width="1.3" stroke-linejoin="round"/>
<polygon points="113,246.94 119.6,251.3 131.8,248.63 125.2,244.27" fill="#74d1e1" stroke="#0c0c0c" stroke-width="1.3" stroke-linejoin="round"/>
<path d="M120.4 252.8L131 304.82M113.8 248.44L118.8 306.99" stroke="#fff" stroke-opacity="0.22" stroke-width="0.6" fill="none"/>
<polygon points="89,309.39 95.6,313.74 95.6,265.4 89,261.04" fill="#6ac9db" stroke="#0c0c0c" stroke-width="1.3" stroke-linejoin="round"/>
<polygon points="95.6,313.74 107.8,311.07 107.8,262.73 95.6,265.4" fill="#70cfe0" stroke="#0c0c0c" stroke-width="1.3" stroke-linejoin="round"/>
<polygon points="89,261.04 95.6,265.4 107.8,262.73 101.2,258.37" fill="#74d1e1" stroke="#0c0c0c" stroke-width="1.3" stroke-linejoin="round"/>
<path d="M96.4 266.9L107 310.07M89.8 262.54L94.8 312.24" stroke="#fff" stroke-opacity="0.22" stroke-width="0.6" fill="none"/>
<polygon points="65,314.64 71.6,319 71.6,279 65,274.64" fill="#6ac9db" stroke="#0c0c0c" stroke-width="1.3" stroke-linejoin="round"/>
<polygon points="71.6,319 83.8,316.33 83.8,276.33 71.6,279" fill="#70cfe0" stroke="#0c0c0c" stroke-width="1.3" stroke-linejoin="round"/>
<polygon points="65,274.64 71.6,279 83.8,276.33 77.2,271.97" fill="#74d1e1" stroke="#0c0c0c" stroke-width="1.3" stroke-linejoin="round"/>
<path d="M72.4 280.5L83 315.33M65.8 276.14L70.8 317.5" stroke="#fff" stroke-opacity="0.22" stroke-width="0.6" fill="none"/>
<polygon points="271.1,281.42 277.5,285.64 277.5,230 271.1,225.78" fill="#ea2f2a" stroke="#0c0c0c" stroke-width="1.3" stroke-linejoin="round"/>
<polygon points="277.5,285.64 289.7,282.98 289.7,227.34 277.5,230" fill="#f0332d" stroke="#0c0c0c" stroke-width="1.3" stroke-linejoin="round"/>
<polygon points="271.1,225.78 277.5,230 289.7,227.34 283.3,223.12" fill="#f23a34" stroke="#0c0c0c" stroke-width="1.3" stroke-linejoin="round"/>
<path d="M278.3 231.5L288.9 281.98M271.9 227.28L276.7 284.14" stroke="#fff" stroke-opacity="0.22" stroke-width="0.6" fill="none"/>
<polygon points="247.1,286.65 253.5,290.88 253.5,230 247.1,225.78" fill="#ea2f2a" stroke="#0c0c0c" stroke-width="1.3" stroke-linejoin="round"/>
<polygon points="253.5,290.88 265.7,288.22 265.7,227.34 253.5,230" fill="#f0332d" stroke="#0c0c0c" stroke-width="1.3" stroke-linejoin="round"/>
<polygon points="247.1,225.78 253.5,230 265.7,227.34 259.3,223.12" fill="#f23a34" stroke="#0c0c0c" stroke-width="1.3" stroke-linejoin="round"/>
<path d="M254.3 231.5L264.9 287.22M247.9 227.28L252.7 289.38" stroke="#fff" stroke-opacity="0.22" stroke-width="0.6" fill="none"/>
<polygon points="223.1,291.88 229.5,296.11 229.5,220.1 223.1,215.88" fill="#ea2f2a" stroke="#0c0c0c" stroke-width="1.3" stroke-linejoin="round"/>
<polygon points="229.5,296.11 241.7,293.45 241.7,217.44 229.5,220.1" fill="#f0332d" stroke="#0c0c0c" stroke-width="1.3" stroke-linejoin="round"/>
<polygon points="223.1,215.88 229.5,220.1 241.7,217.44 235.3,213.22" fill="#f23a34" stroke="#0c0c0c" stroke-width="1.3" stroke-linejoin="round"/>
<path d="M230.3 221.6L240.9 292.45M223.9 217.38L228.7 294.61" stroke="#fff" stroke-opacity="0.22" stroke-width="0.6" fill="none"/>
<polygon points="199.1,297.12 205.5,301.34 205.5,228.8 199.1,224.58" fill="#ea2f2a" stroke="#0c0c0c" stroke-width="1.3" stroke-linejoin="round"/>
<polygon points="205.5,301.34 217.7,298.68 217.7,226.14 205.5,228.8" fill="#f0332d" stroke="#0c0c0c" stroke-width="1.3" stroke-linejoin="round"/>
<polygon points="199.1,224.58 205.5,228.8 217.7,226.14 211.3,221.92" fill="#f23a34" stroke="#0c0c0c" stroke-width="1.3" stroke-linejoin="round"/>
<path d="M206.3 230.3L216.9 297.68M199.9 226.08L204.7 299.84" stroke="#fff" stroke-opacity="0.22" stroke-width="0.6" fill="none"/>
<polygon points="175.1,302.35 181.5,306.57 181.5,238.6 175.1,234.38" fill="#ea2f2a" stroke="#0c0c0c" stroke-width="1.3" stroke-linejoin="round"/>
<polygon points="181.5,306.57 193.7,303.91 193.7,235.94 181.5,238.6" fill="#f0332d" stroke="#0c0c0c" stroke-width="1.3" stroke-linejoin="round"/>
<polygon points="175.1,234.38 181.5,238.6 193.7,235.94 187.3,231.72" fill="#f23a34" stroke="#0c0c0c" stroke-width="1.3" stroke-linejoin="round"/>
<path d="M182.3 240.1L192.9 302.91M175.9 235.88L180.7 305.07" stroke="#fff" stroke-opacity="0.22" stroke-width="0.6" fill="none"/>
<polygon points="151.1,307.58 157.5,311.8 157.5,246.9 151.1,242.68" fill="#ea2f2a" stroke="#0c0c0c" stroke-width="1.3" stroke-linejoin="round"/>
<polygon points="157.5,311.8 169.7,309.14 169.7,244.24 157.5,246.9" fill="#f0332d" stroke="#0c0c0c" stroke-width="1.3" stroke-linejoin="round"/>
<polygon points="151.1,242.68 157.5,246.9 169.7,244.24 163.3,240.02" fill="#f23a34" stroke="#0c0c0c" stroke-width="1.3" stroke-linejoin="round"/>
<path d="M158.3 248.4L168.9 308.14M151.9 244.18L156.7 310.3" stroke="#fff" stroke-opacity="0.22" stroke-width="0.6" fill="none"/>
<polygon points="127.1,312.81 133.5,317.04 133.5,259.5 127.1,255.28" fill="#ea2f2a" stroke="#0c0c0c" stroke-width="1.3" stroke-linejoin="round"/>
<polygon points="133.5,317.04 145.7,314.38 145.7,256.84 133.5,259.5" fill="#f0332d" stroke="#0c0c0c" stroke-width="1.3" stroke-linejoin="round"/>
<polygon points="127.1,255.28 133.5,259.5 145.7,256.84 139.3,252.62" fill="#f23a34" stroke="#0c0c0c" stroke-width="1.3" stroke-linejoin="round"/>
<path d="M134.3 261L144.9 313.38M127.9 256.78L132.7 315.54" stroke="#fff" stroke-opacity="0.22" stroke-width="0.6" fill="none"/>
<polygon points="103.1,318.04 109.5,322.27 109.5,269.6 103.1,265.38" fill="#ea2f2a" stroke="#0c0c0c" stroke-width="1.3" stroke-linejoin="round"/>
<polygon points="109.5,322.27 121.7,319.61 121.7,266.94 109.5,269.6" fill="#f0332d" stroke="#0c0c0c" stroke-width="1.3" stroke-linejoin="round"/>
<polygon points="103.1,265.38 109.5,269.6 121.7,266.94 115.3,262.72" fill="#f23a34" stroke="#0c0c0c" stroke-width="1.3" stroke-linejoin="round"/>
<path d="M110.3 271.1L120.9 318.61M103.9 266.88L108.7 320.77" stroke="#fff" stroke-opacity="0.22" stroke-width="0.6" fill="none"/>
<polygon points="79.1,323.28 85.5,327.5 85.5,286.3 79.1,282.08" fill="#ea2f2a" stroke="#0c0c0c" stroke-width="1.3" stroke-linejoin="round"/>
<polygon points="85.5,327.5 97.7,324.84 97.7,283.64 85.5,286.3" fill="#f0332d" stroke="#0c0c0c" stroke-width="1.3" stroke-linejoin="round"/>
<polygon points="79.1,282.08 85.5,286.3 97.7,283.64 91.3,279.42" fill="#f23a34" stroke="#0c0c0c" stroke-width="1.3" stroke-linejoin="round"/>
<path d="M86.3 287.8L96.9 323.84M79.9 283.58L84.7 326" stroke="#fff" stroke-opacity="0.22" stroke-width="0.6" fill="none"/>
<polygon points="285.1,290.47 291.4,294.62 291.4,240.5 285.1,236.34" fill="#2858bc" stroke="#0c0c0c" stroke-width="1.3" stroke-linejoin="round"/>
<polygon points="291.4,294.62 303.7,291.97 303.7,237.85 291.4,240.5" fill="#2c5fc6" stroke="#0c0c0c" stroke-width="1.3" stroke-linejoin="round"/>
<polygon points="285.1,236.34 291.4,240.5 303.7,237.85 297.4,233.69" fill="#2c5ec4" stroke="#0c0c0c" stroke-width="1.3" stroke-linejoin="round"/>
<path d="M292.2 242L302.9 290.97M285.9 237.84L290.6 293.12" stroke="#fff" stroke-opacity="0.22" stroke-width="0.6" fill="none"/>
<polygon points="261.1,295.64 267.4,299.8 267.4,240 261.1,235.84" fill="#2858bc" stroke="#0c0c0c" stroke-width="1.3" stroke-linejoin="round"/>
<polygon points="267.4,299.8 279.7,297.15 279.7,237.35 267.4,240" fill="#2c5fc6" stroke="#0c0c0c" stroke-width="1.3" stroke-linejoin="round"/>
<polygon points="261.1,235.84 267.4,240 279.7,237.35 273.4,233.19" fill="#2c5ec4" stroke="#0c0c0c" stroke-width="1.3" stroke-linejoin="round"/>
<path d="M268.2 241.5L278.9 296.15M261.9 237.34L266.6 298.3" stroke="#fff" stroke-opacity="0.22" stroke-width="0.6" fill="none"/>
<polygon points="237.1,300.81 243.4,304.97 243.4,241.5 237.1,237.34" fill="#2858bc" stroke="#0c0c0c" stroke-width="1.3" stroke-linejoin="round"/>
<polygon points="243.4,304.97 255.7,302.32 255.7,238.85 243.4,241.5" fill="#2c5fc6" stroke="#0c0c0c" stroke-width="1.3" stroke-linejoin="round"/>
<polygon points="237.1,237.34 243.4,241.5 255.7,238.85 249.4,234.69" fill="#2c5ec4" stroke="#0c0c0c" stroke-width="1.3" stroke-linejoin="round"/>
<path d="M244.2 243L254.9 301.32M237.9 238.84L242.6 303.47" stroke="#fff" stroke-opacity="0.22" stroke-width="0.6" fill="none"/>
<polygon points="213.1,305.98 219.4,310.14 219.4,238.7 213.1,234.54" fill="#2858bc" stroke="#0c0c0c" stroke-width="1.3" stroke-linejoin="round"/>
<polygon points="219.4,310.14 231.7,307.49 231.7,236.05 219.4,238.7" fill="#2c5fc6" stroke="#0c0c0c" stroke-width="1.3" stroke-linejoin="round"/>
<polygon points="213.1,234.54 219.4,238.7 231.7,236.05 225.4,231.89" fill="#2c5ec4" stroke="#0c0c0c" stroke-width="1.3" stroke-linejoin="round"/>
<path d="M220.2 240.2L230.9 306.49M213.9 236.04L218.6 308.64" stroke="#fff" stroke-opacity="0.22" stroke-width="0.6" fill="none"/>
<polygon points="189.1,311.15 195.4,315.31 195.4,246.3 189.1,242.14" fill="#2858bc" stroke="#0c0c0c" stroke-width="1.3" stroke-linejoin="round"/>
<polygon points="195.4,315.31 207.7,312.66 207.7,243.65 195.4,246.3" fill="#2c5fc6" stroke="#0c0c0c" stroke-width="1.3" stroke-linejoin="round"/>
<polygon points="189.1,242.14 195.4,246.3 207.7,243.65 201.4,239.49" fill="#2c5ec4" stroke="#0c0c0c" stroke-width="1.3" stroke-linejoin="round"/>
<path d="M196.2 247.8L206.9 311.66M189.9 243.64L194.6 313.81" stroke="#fff" stroke-opacity="0.22" stroke-width="0.6" fill="none"/>
<polygon points="165.1,316.33 171.4,320.48 171.4,254.4 165.1,250.24" fill="#2858bc" stroke="#0c0c0c" stroke-width="1.3" stroke-linejoin="round"/>
<polygon points="171.4,320.48 183.7,317.83 183.7,251.75 171.4,254.4" fill="#2c5fc6" stroke="#0c0c0c" stroke-width="1.3" stroke-linejoin="round"/>
<polygon points="165.1,250.24 171.4,254.4 183.7,251.75 177.4,247.59" fill="#2c5ec4" stroke="#0c0c0c" stroke-width="1.3" stroke-linejoin="round"/>
<path d="M172.2 255.9L182.9 316.83M165.9 251.74L170.6 318.98" stroke="#fff" stroke-opacity="0.22" stroke-width="0.6" fill="none"/>
<polygon points="141.1,321.5 147.4,325.66 147.4,263.9 141.1,259.74" fill="#2858bc" stroke="#0c0c0c" stroke-width="1.3" stroke-linejoin="round"/>
<polygon points="147.4,325.66 159.7,323.01 159.7,261.25 147.4,263.9" fill="#2c5fc6" stroke="#0c0c0c" stroke-width="1.3" stroke-linejoin="round"/>
<polygon points="141.1,259.74 147.4,263.9 159.7,261.25 153.4,257.09" fill="#2c5ec4" stroke="#0c0c0c" stroke-width="1.3" stroke-linejoin="round"/>
<path d="M148.2 265.4L158.9 322.01M141.9 261.24L146.6 324.16" stroke="#fff" stroke-opacity="0.22" stroke-width="0.6" fill="none"/>
<polygon points="117.1,326.67 123.4,330.83 123.4,280 117.1,275.84" fill="#2858bc" stroke="#0c0c0c" stroke-width="1.3" stroke-linejoin="round"/>
<polygon points="123.4,330.83 135.7,328.18 135.7,277.35 123.4,280" fill="#2c5fc6" stroke="#0c0c0c" stroke-width="1.3" stroke-linejoin="round"/>
<polygon points="117.1,275.84 123.4,280 135.7,277.35 129.4,273.19" fill="#2c5ec4" stroke="#0c0c0c" stroke-width="1.3" stroke-linejoin="round"/>
<path d="M124.2 281.5L134.9 327.18M117.9 277.34L122.6 329.33" stroke="#fff" stroke-opacity="0.22" stroke-width="0.6" fill="none"/>
<polygon points="93.1,331.84 99.4,336 99.4,295 93.1,290.84" fill="#2858bc" stroke="#0c0c0c" stroke-width="1.3" stroke-linejoin="round"/>
<polygon points="99.4,336 111.7,333.35 111.7,292.35 99.4,295" fill="#2c5fc6" stroke="#0c0c0c" stroke-width="1.3" stroke-linejoin="round"/>
<polygon points="93.1,290.84 99.4,295 111.7,292.35 105.4,288.19" fill="#2c5ec4" stroke="#0c0c0c" stroke-width="1.3" stroke-linejoin="round"/>
<path d="M100.2 296.5L110.9 332.35M93.9 292.34L98.6 334.5" stroke="#fff" stroke-opacity="0.22" stroke-width="0.6" fill="none"/>
<polygon points="298,299.97 304.9,304.52 304.9,303.82 298,299.27" fill="#79ca3f" stroke="#0c0c0c" stroke-width="1.3" stroke-linejoin="round"/>
<polygon points="304.9,304.52 315.9,302.18 315.9,301.48 304.9,303.82" fill="#7fd045" stroke="#0c0c0c" stroke-width="1.3" stroke-linejoin="round"/>
<polygon points="298,299.27 304.9,303.82 315.9,301.48 309,296.93" fill="#82d249" stroke="#0c0c0c" stroke-width="1.3" stroke-linejoin="round"/>
<polygon points="274,305.06 280.9,309.62 280.9,308.92 274,304.36" fill="#79ca3f" stroke="#0c0c0c" stroke-width="1.3" stroke-linejoin="round"/>
<polygon points="280.9,309.62 291.9,307.28 291.9,306.58 280.9,308.92" fill="#7fd045" stroke="#0c0c0c" stroke-width="1.3" stroke-linejoin="round"/>
<polygon points="274,304.36 280.9,308.92 291.9,306.58 285,302.03" fill="#82d249" stroke="#0c0c0c" stroke-width="1.3" stroke-linejoin="round"/>
<polygon points="250,310.16 256.9,314.71 256.9,314.01 250,309.46" fill="#79ca3f" stroke="#0c0c0c" stroke-width="1.3" stroke-linejoin="round"/>
<polygon points="256.9,314.71 267.9,312.38 267.9,311.68 256.9,314.01" fill="#7fd045" stroke="#0c0c0c" stroke-width="1.3" stroke-linejoin="round"/>
<polygon points="250,309.46 256.9,314.01 267.9,311.68 261,307.12" fill="#82d249" stroke="#0c0c0c" stroke-width="1.3" stroke-linejoin="round"/>
<polygon points="226,315.26 232.9,319.81 232.9,261.1 226,256.55" fill="#79ca3f" stroke="#0c0c0c" stroke-width="1.3" stroke-linejoin="round"/>
<polygon points="232.9,319.81 243.9,317.48 243.9,258.76 232.9,261.1" fill="#7fd045" stroke="#0c0c0c" stroke-width="1.3" stroke-linejoin="round"/>
<polygon points="226,256.55 232.9,261.1 243.9,258.76 237,254.21" fill="#82d249" stroke="#0c0c0c" stroke-width="1.3" stroke-linejoin="round"/>
<path d="M233.7 262.6L243.1 316.48M226.8 258.05L232.1 318.31" stroke="#fff" stroke-opacity="0.22" stroke-width="0.6" fill="none"/>
<polygon points="202,320.36 208.9,324.91 208.9,262.1 202,257.55" fill="#79ca3f" stroke="#0c0c0c" stroke-width="1.3" stroke-linejoin="round"/>
<polygon points="208.9,324.91 219.9,322.57 219.9,259.76 208.9,262.1" fill="#7fd045" stroke="#0c0c0c" stroke-width="1.3" stroke-linejoin="round"/>
<polygon points="202,257.55 208.9,262.1 219.9,259.76 213,255.21" fill="#82d249" stroke="#0c0c0c" stroke-width="1.3" stroke-linejoin="round"/>
<path d="M209.7 263.6L219.1 321.57M202.8 259.05L208.1 323.41" stroke="#fff" stroke-opacity="0.22" stroke-width="0.6" fill="none"/>
<polygon points="178,325.45 184.9,330.01 184.9,252.3 178,247.75" fill="#79ca3f" stroke="#0c0c0c" stroke-width="1.3" stroke-linejoin="round"/>
<polygon points="184.9,330.01 195.9,327.67 195.9,249.96 184.9,252.3" fill="#7fd045" stroke="#0c0c0c" stroke-width="1.3" stroke-linejoin="round"/>
<polygon points="178,247.75 184.9,252.3 195.9,249.96 189,245.41" fill="#82d249" stroke="#0c0c0c" stroke-width="1.3" stroke-linejoin="round"/>
<path d="M185.7 253.8L195.1 326.67M178.8 249.25L184.1 328.51" stroke="#fff" stroke-opacity="0.22" stroke-width="0.6" fill="none"/>
<polygon points="154,330.55 160.9,335.1 160.9,266.8 154,262.25" fill="#79ca3f" stroke="#0c0c0c" stroke-width="1.3" stroke-linejoin="round"/>
<polygon points="160.9,335.1 171.9,332.77 171.9,264.46 160.9,266.8" fill="#7fd045" stroke="#0c0c0c" stroke-width="1.3" stroke-linejoin="round"/>
<polygon points="154,262.25 160.9,266.8 171.9,264.46 165,259.91" fill="#82d249" stroke="#0c0c0c" stroke-width="1.3" stroke-linejoin="round"/>
<path d="M161.7 268.3L171.1 331.77M154.8 263.75L160.1 333.6" stroke="#fff" stroke-opacity="0.22" stroke-width="0.6" fill="none"/>
<polygon points="130,335.65 136.9,340.2 136.9,285.3 130,280.75" fill="#79ca3f" stroke="#0c0c0c" stroke-width="1.3" stroke-linejoin="round"/>
<polygon points="136.9,340.2 147.9,337.87 147.9,282.96 136.9,285.3" fill="#7fd045" stroke="#0c0c0c" stroke-width="1.3" stroke-linejoin="round"/>
<polygon points="130,280.75 136.9,285.3 147.9,282.96 141,278.41" fill="#82d249" stroke="#0c0c0c" stroke-width="1.3" stroke-linejoin="round"/>
<path d="M137.7 286.8L147.1 336.87M130.8 282.25L136.1 338.7" stroke="#fff" stroke-opacity="0.22" stroke-width="0.6" fill="none"/>
<polygon points="106,340.75 112.9,345.3 112.9,304.9 106,300.35" fill="#79ca3f" stroke="#0c0c0c" stroke-width="1.3" stroke-linejoin="round"/>
<polygon points="112.9,345.3 123.9,342.96 123.9,302.56 112.9,304.9" fill="#7fd045" stroke="#0c0c0c" stroke-width="1.3" stroke-linejoin="round"/>
<polygon points="106,300.35 112.9,304.9 123.9,302.56 117,298.01" fill="#82d249" stroke="#0c0c0c" stroke-width="1.3" stroke-linejoin="round"/>
<path d="M113.7 306.4L123.1 341.96M106.8 301.85L112.1 343.8" stroke="#fff" stroke-opacity="0.22" stroke-width="0.6" fill="none"/>
<text x="130.2" y="356.05" font-size="7.7" text-anchor="middle" fill="#222" textLength="10.96" lengthAdjust="spacingAndGlyphs" stroke="#222" stroke-width="0.3">0h</text>
<text x="154.25" y="350.79" font-size="7.7" text-anchor="middle" fill="#222" textLength="16.44" lengthAdjust="spacingAndGlyphs" stroke="#222" stroke-width="0.3">12h</text>
<text x="178.3" y="345.53" font-size="7.7" text-anchor="middle" fill="#222" textLength="10.96" lengthAdjust="spacingAndGlyphs" stroke="#222" stroke-width="0.3">1d</text>
<text x="202.35" y="340.27" font-size="7.7" text-anchor="middle" fill="#222" textLength="10.96" lengthAdjust="spacingAndGlyphs" stroke="#222" stroke-width="0.3">3d</text>
<text x="226.4" y="335.01" font-size="7.7" text-anchor="middle" fill="#222" textLength="10.96" lengthAdjust="spacingAndGlyphs" stroke="#222" stroke-width="0.3">5d</text>
<text x="250.45" y="329.75" font-size="7.7" text-anchor="middle" fill="#222" textLength="10.96" lengthAdjust="spacingAndGlyphs" stroke="#222" stroke-width="0.3">7d</text>
<text x="274.5" y="324.49" font-size="7.7" text-anchor="middle" fill="#222" textLength="16.44" lengthAdjust="spacingAndGlyphs" stroke="#222" stroke-width="0.3">14d</text>
<text x="298.55" y="319.23" font-size="7.7" text-anchor="middle" fill="#222" textLength="16.44" lengthAdjust="spacingAndGlyphs" stroke="#222" stroke-width="0.3">21d</text>
<text x="322.6" y="313.97" font-size="7.7" text-anchor="middle" fill="#222" textLength="16.44" lengthAdjust="spacingAndGlyphs" stroke="#222" stroke-width="0.3">28d</text>
<text x="232" y="350.55" font-size="7.7" text-anchor="middle" fill="#222" textLength="22" lengthAdjust="spacingAndGlyphs" stroke="#222" stroke-width="0.3">Time</text>
<text x="60" y="328.35" font-size="7.7" text-anchor="end" fill="#222" textLength="27.78" lengthAdjust="spacingAndGlyphs" stroke="#222" stroke-width="0.3">−80°C</text>
<text x="72.5" y="338.45" font-size="7.7" text-anchor="end" fill="#222" textLength="27.78" lengthAdjust="spacingAndGlyphs" stroke="#222" stroke-width="0.3">−40°C</text>
<text x="89.3" y="348.35" font-size="7.7" text-anchor="end" fill="#222" textLength="27.78" lengthAdjust="spacingAndGlyphs" stroke="#222" stroke-width="0.3">−20°C</text>
<text x="101.8" y="360.35" font-size="7.7" text-anchor="end" fill="#222" textLength="16.54" lengthAdjust="spacingAndGlyphs" stroke="#222" stroke-width="0.3">4°C</text>
<text x="0" y="2.75" font-size="7.7" text-anchor="middle" fill="#222" textLength="51" lengthAdjust="spacingAndGlyphs" stroke="#222" stroke-width="0.3" transform="translate(40.6 346.5) rotate(38) skewX(-12)">Temperature</text>
<text x="0" y="0" font-size="11.6" text-anchor="middle" fill="#222" textLength="85.7" lengthAdjust="spacingAndGlyphs" stroke="#222" stroke-width="0.35" transform="translate(22.7 276.7) rotate(-90)">Cholesterol absorbed (%)</text>
<text x="11" y="206.5" font-size="10.2" text-anchor="start" fill="#1c1c28" textLength="16.3" lengthAdjust="spacingAndGlyphs" font-weight="bold">(b)</text>
</g>
<g>
<polygon points="56.9,494.4 270.2,441.5 270.2,372.9 56.9,425.5" fill="#fff"/>
<polygon points="270.2,441.5 323.5,479.6 323.5,409.4 270.2,372.9" fill="#fff"/>
<polygon points="56.9,494.4 270.2,441.5 323.5,479.6 105.2,532.6" fill="#fff"/>
<polyline points="49.5,426.2 56.9,424.94 270.2,372.9" fill="none" stroke="#0c0c0c" stroke-width="1.05"/>
<text x="42.7" y="429.2" font-size="7.7" text-anchor="end" fill="#222" textLength="10.5" lengthAdjust="spacingAndGlyphs" stroke="#222" stroke-width="0.3">40</text>
<polyline points="49.5,443.2 56.9,441.94 270.2,389.95" fill="none" stroke="#0c0c0c" stroke-width="1.05"/>
<text x="42.7" y="446.2" font-size="7.7" text-anchor="end" fill="#222" textLength="10.5" lengthAdjust="spacingAndGlyphs" stroke="#222" stroke-width="0.3">30</text>
<polyline points="49.5,460.2 56.9,458.94 270.2,407" fill="none" stroke="#0c0c0c" stroke-width="1.05"/>
<text x="42.7" y="463.2" font-size="7.7" text-anchor="end" fill="#222" textLength="10.5" lengthAdjust="spacingAndGlyphs" stroke="#222" stroke-width="0.3">20</text>
<polyline points="49.5,477.3 56.9,476.04 270.2,424.15" fill="none" stroke="#0c0c0c" stroke-width="1.05"/>
<text x="42.7" y="480.3" font-size="7.7" text-anchor="end" fill="#222" textLength="10.5" lengthAdjust="spacingAndGlyphs" stroke="#222" stroke-width="0.3">10</text>
<polyline points="49.5,494.6 56.9,493.34 270.2,441.5" fill="none" stroke="#0c0c0c" stroke-width="1.05"/>
<text x="42.7" y="497.6" font-size="7.7" text-anchor="end" fill="#222" textLength="6.1" lengthAdjust="spacingAndGlyphs" stroke="#222" stroke-width="0.3">0</text>
<line x1="56.9" y1="424.94" x2="56.9" y2="493.34" stroke="#0c0c0c" stroke-width="1.05"/>
<line x1="72.1" y1="412.73" x2="72.1" y2="489.65" stroke="#0c0c0c" stroke-width="1.05"/>
<line x1="121.3" y1="400.73" x2="121.3" y2="477.69" stroke="#0c0c0c" stroke-width="1.05"/>
<line x1="170.7" y1="388.68" x2="170.7" y2="465.68" stroke="#0c0c0c" stroke-width="1.05"/>
<line x1="220.1" y1="376.62" x2="220.1" y2="453.68" stroke="#0c0c0c" stroke-width="1.05"/>
<line x1="269.6" y1="364.55" x2="269.6" y2="441.65" stroke="#0c0c0c" stroke-width="1.05"/>
<line x1="272.8" y1="363.77" x2="272.8" y2="440.87" stroke="#0c0c0c" stroke-width="1.05"/>
<line x1="280.4" y1="370.58" x2="280.4" y2="448.79" stroke="#0c0c0c" stroke-width="1.05"/>
<line x1="287.7" y1="375.58" x2="287.7" y2="454.01" stroke="#0c0c0c" stroke-width="1.05"/>
<line x1="295" y1="380.58" x2="295" y2="459.23" stroke="#0c0c0c" stroke-width="1.05"/>
<line x1="302.1" y1="385.45" x2="302.1" y2="464.3" stroke="#0c0c0c" stroke-width="1.05"/>
<line x1="309.3" y1="390.38" x2="309.3" y2="469.45" stroke="#0c0c0c" stroke-width="1.05"/>
<line x1="316.4" y1="395.24" x2="316.4" y2="474.52" stroke="#0c0c0c" stroke-width="1.05"/>
<line x1="323.5" y1="400.1" x2="323.5" y2="479.6" stroke="#0c0c0c" stroke-width="1.05"/>
<line x1="270.2" y1="372.9" x2="323.5" y2="409.4" stroke="#0c0c0c" stroke-width="1.05"/>
<line x1="270.2" y1="389.95" x2="323.5" y2="426.85" stroke="#0c0c0c" stroke-width="1.05"/>
<line x1="270.2" y1="407" x2="323.5" y2="444.29" stroke="#0c0c0c" stroke-width="1.05"/>
<line x1="270.2" y1="424.15" x2="323.5" y2="461.84" stroke="#0c0c0c" stroke-width="1.05"/>
<line x1="270.2" y1="441.5" x2="323.5" y2="479.6" stroke="#0c0c0c" stroke-width="1.05"/>
<line x1="56.9" y1="493.34" x2="270.2" y2="441.5" stroke="#0c0c0c" stroke-width="1.05"/>
<polyline points="105.2,532.6 123.39,528.24 141.58,523.88 159.78,519.5 177.97,515.11 196.16,510.71 214.35,506.3 232.54,501.88 250.73,497.44 268.93,493 287.12,488.54 305.31,484.08 323.5,479.6" fill="none" stroke="#0c0c0c" stroke-width="1.05"/>
<line x1="64.32" y1="499.38" x2="277.95" y2="447.04" stroke="#0c0c0c" stroke-width="1.05"/>
<line x1="64.32" y1="499.38" x2="105.2" y2="532.6" stroke="#0c0c0c" stroke-width="1.05"/>
<line x1="64.32" y1="499.38" x2="59.02" y2="502.18" stroke="#0c0c0c" stroke-width="1.05"/>
<line x1="77.46" y1="510.05" x2="293.89" y2="458.44" stroke="#0c0c0c" stroke-width="1.05"/>
<line x1="77.46" y1="510.05" x2="72.16" y2="512.85" stroke="#0c0c0c" stroke-width="1.05"/>
<line x1="90.54" y1="520.68" x2="307.75" y2="468.34" stroke="#0c0c0c" stroke-width="1.05"/>
<line x1="90.54" y1="520.68" x2="85.24" y2="523.48" stroke="#0c0c0c" stroke-width="1.05"/>
<line x1="104.8" y1="532.27" x2="323.31" y2="479.46" stroke="#0c0c0c" stroke-width="1.05"/>
<line x1="105.2" y1="532.6" x2="99.9" y2="535.4" stroke="#0c0c0c" stroke-width="1.05"/>
<line x1="68.65" y1="490.49" x2="122.3" y2="528.04" stroke="#0c0c0c" stroke-width="1.05"/>
<line x1="120.8" y1="528.87" x2="122.2" y2="531.87" stroke="#0c0c0c" stroke-width="1.05"/>
<line x1="93.23" y1="484.51" x2="146.92" y2="522.09" stroke="#0c0c0c" stroke-width="1.05"/>
<line x1="145.42" y1="522.96" x2="146.82" y2="525.96" stroke="#0c0c0c" stroke-width="1.05"/>
<line x1="117.82" y1="478.54" x2="171.54" y2="516.14" stroke="#0c0c0c" stroke-width="1.05"/>
<line x1="170.04" y1="517.02" x2="171.44" y2="520.02" stroke="#0c0c0c" stroke-width="1.05"/>
<line x1="142.4" y1="472.56" x2="196.16" y2="510.19" stroke="#0c0c0c" stroke-width="1.05"/>
<line x1="194.66" y1="511.07" x2="196.06" y2="514.07" stroke="#0c0c0c" stroke-width="1.05"/>
<line x1="166.99" y1="466.59" x2="220.78" y2="504.24" stroke="#0c0c0c" stroke-width="1.05"/>
<line x1="219.28" y1="505.1" x2="220.68" y2="508.1" stroke="#0c0c0c" stroke-width="1.05"/>
<line x1="191.57" y1="460.61" x2="245.4" y2="498.29" stroke="#0c0c0c" stroke-width="1.05"/>
<line x1="243.9" y1="499.11" x2="245.3" y2="502.11" stroke="#0c0c0c" stroke-width="1.05"/>
<line x1="216.16" y1="454.64" x2="270.02" y2="492.34" stroke="#0c0c0c" stroke-width="1.05"/>
<line x1="268.52" y1="493.1" x2="269.92" y2="496.1" stroke="#0c0c0c" stroke-width="1.05"/>
<line x1="240.74" y1="448.66" x2="294.64" y2="486.39" stroke="#0c0c0c" stroke-width="1.05"/>
<line x1="293.14" y1="487.07" x2="294.54" y2="490.07" stroke="#0c0c0c" stroke-width="1.05"/>
<line x1="265.32" y1="442.68" x2="319.26" y2="480.44" stroke="#0c0c0c" stroke-width="1.05"/>
<line x1="317.76" y1="481.01" x2="319.16" y2="484.01" stroke="#0c0c0c" stroke-width="1.05"/>
<polygon points="258.06,445.48 264.86,450.24 264.86,384.7 258.06,379.94" fill="#6ac9db" stroke="#0c0c0c" stroke-width="1.3" stroke-linejoin="round"/>
<polygon points="264.86,450.24 277.36,447.18 277.36,381.64 264.86,384.7" fill="#70cfe0" stroke="#0c0c0c" stroke-width="1.3" stroke-linejoin="round"/>
<polygon points="258.06,379.94 264.86,384.7 277.36,381.64 270.56,376.88" fill="#74d1e1" stroke="#0c0c0c" stroke-width="1.3" stroke-linejoin="round"/>
<path d="M265.66 386.2L276.56 446.18M258.86 381.44L264.06 448.74" stroke="#fff" stroke-opacity="0.22" stroke-width="0.6" fill="none"/>
<polygon points="233.44,451.52 240.24,456.28 240.24,379.9 233.44,375.14" fill="#6ac9db" stroke="#0c0c0c" stroke-width="1.3" stroke-linejoin="round"/>
<polygon points="240.24,456.28 252.74,453.21 252.74,376.84 240.24,379.9" fill="#70cfe0" stroke="#0c0c0c" stroke-width="1.3" stroke-linejoin="round"/>
<polygon points="233.44,375.14 240.24,379.9 252.74,376.84 245.94,372.08" fill="#74d1e1" stroke="#0c0c0c" stroke-width="1.3" stroke-linejoin="round"/>
<path d="M241.04 381.4L251.94 452.21M234.24 376.64L239.44 454.78" stroke="#fff" stroke-opacity="0.22" stroke-width="0.6" fill="none"/>
<polygon points="208.82,457.55 215.62,462.31 215.62,389.3 208.82,384.54" fill="#6ac9db" stroke="#0c0c0c" stroke-width="1.3" stroke-linejoin="round"/>
<polygon points="215.62,462.31 228.12,459.25 228.12,386.24 215.62,389.3" fill="#70cfe0" stroke="#0c0c0c" stroke-width="1.3" stroke-linejoin="round"/>
<polygon points="208.82,384.54 215.62,389.3 228.12,386.24 221.32,381.48" fill="#74d1e1" stroke="#0c0c0c" stroke-width="1.3" stroke-linejoin="round"/>
<path d="M216.42 390.8L227.32 458.25M209.62 386.04L214.82 460.81" stroke="#fff" stroke-opacity="0.22" stroke-width="0.6" fill="none"/>
<polygon points="184.2,463.58 191,468.34 191,399.5 184.2,394.74" fill="#6ac9db" stroke="#0c0c0c" stroke-width="1.3" stroke-linejoin="round"/>
<polygon points="191,468.34 203.5,465.28 203.5,396.44 191,399.5" fill="#70cfe0" stroke="#0c0c0c" stroke-width="1.3" stroke-linejoin="round"/>
<polygon points="184.2,394.74 191,399.5 203.5,396.44 196.7,391.68" fill="#74d1e1" stroke="#0c0c0c" stroke-width="1.3" stroke-linejoin="round"/>
<path d="M191.8 401L202.7 464.28M185 396.24L190.2 466.84" stroke="#fff" stroke-opacity="0.22" stroke-width="0.6" fill="none"/>
<polygon points="159.58,469.61 166.38,474.37 166.38,410.9 159.58,406.14" fill="#6ac9db" stroke="#0c0c0c" stroke-width="1.3" stroke-linejoin="round"/>
<polygon points="166.38,474.37 178.88,471.31 178.88,407.84 166.38,410.9" fill="#70cfe0" stroke="#0c0c0c" stroke-width="1.3" stroke-linejoin="round"/>
<polygon points="159.58,406.14 166.38,410.9 178.88,407.84 172.08,403.08" fill="#74d1e1" stroke="#0c0c0c" stroke-width="1.3" stroke-linejoin="round"/>
<path d="M167.18 412.4L178.08 470.31M160.38 407.64L165.58 472.87" stroke="#fff" stroke-opacity="0.22" stroke-width="0.6" fill="none"/>
<polygon points="134.96,475.64 141.76,480.4 141.76,423.5 134.96,418.74" fill="#6ac9db" stroke="#0c0c0c" stroke-width="1.3" stroke-linejoin="round"/>
<polygon points="141.76,480.4 154.26,477.34 154.26,420.44 141.76,423.5" fill="#70cfe0" stroke="#0c0c0c" stroke-width="1.3" stroke-linejoin="round"/>
<polygon points="134.96,418.74 141.76,423.5 154.26,420.44 147.46,415.68" fill="#74d1e1" stroke="#0c0c0c" stroke-width="1.3" stroke-linejoin="round"/>
<path d="M142.56 425L153.46 476.34M135.76 420.24L140.96 478.9" stroke="#fff" stroke-opacity="0.22" stroke-width="0.6" fill="none"/>
<polygon points="110.34,481.68 117.14,486.44 117.14,435.9 110.34,431.14" fill="#6ac9db" stroke="#0c0c0c" stroke-width="1.3" stroke-linejoin="round"/>
<polygon points="117.14,486.44 129.64,483.37 129.64,432.84 117.14,435.9" fill="#70cfe0" stroke="#0c0c0c" stroke-width="1.3" stroke-linejoin="round"/>
<polygon points="110.34,431.14 117.14,435.9 129.64,432.84 122.84,428.08" fill="#74d1e1" stroke="#0c0c0c" stroke-width="1.3" stroke-linejoin="round"/>
<path d="M117.94 437.4L128.84 482.37M111.14 432.64L116.34 484.94" stroke="#fff" stroke-opacity="0.22" stroke-width="0.6" fill="none"/>
<polygon points="85.72,487.71 92.52,492.47 92.52,449.7 85.72,444.94" fill="#6ac9db" stroke="#0c0c0c" stroke-width="1.3" stroke-linejoin="round"/>
<polygon points="92.52,492.47 105.02,489.41 105.02,446.64 92.52,449.7" fill="#70cfe0" stroke="#0c0c0c" stroke-width="1.3" stroke-linejoin="round"/>
<polygon points="85.72,444.94 92.52,449.7 105.02,446.64 98.22,441.88" fill="#74d1e1" stroke="#0c0c0c" stroke-width="1.3" stroke-linejoin="round"/>
<path d="M93.32 451.2L104.22 488.41M86.52 446.44L91.72 490.97" stroke="#fff" stroke-opacity="0.22" stroke-width="0.6" fill="none"/>
<polygon points="61.1,493.74 67.9,498.5 67.9,461.3 61.1,456.54" fill="#6ac9db" stroke="#0c0c0c" stroke-width="1.3" stroke-linejoin="round"/>
<polygon points="67.9,498.5 80.4,495.44 80.4,458.24 67.9,461.3" fill="#70cfe0" stroke="#0c0c0c" stroke-width="1.3" stroke-linejoin="round"/>
<polygon points="61.1,456.54 67.9,461.3 80.4,458.24 73.6,453.48" fill="#74d1e1" stroke="#0c0c0c" stroke-width="1.3" stroke-linejoin="round"/>
<path d="M68.7 462.8L79.6 494.44M61.9 458.04L67.1 497" stroke="#fff" stroke-opacity="0.22" stroke-width="0.6" fill="none"/>
<polygon points="272.66,457.31 279.26,461.93 279.26,408.2 272.66,403.58" fill="#ea2f2a" stroke="#0c0c0c" stroke-width="1.3" stroke-linejoin="round"/>
<polygon points="279.26,461.93 291.76,458.94 291.76,405.22 279.26,408.2" fill="#f0332d" stroke="#0c0c0c" stroke-width="1.3" stroke-linejoin="round"/>
<polygon points="272.66,403.58 279.26,408.2 291.76,405.22 285.16,400.6" fill="#f23a34" stroke="#0c0c0c" stroke-width="1.3" stroke-linejoin="round"/>
<path d="M280.06 409.7L290.96 457.94M273.46 405.08L278.46 460.43" stroke="#fff" stroke-opacity="0.22" stroke-width="0.6" fill="none"/>
<polygon points="248.04,463.18 254.64,467.8 254.64,410.4 248.04,405.78" fill="#ea2f2a" stroke="#0c0c0c" stroke-width="1.3" stroke-linejoin="round"/>
<polygon points="254.64,467.8 267.14,464.82 267.14,407.42 254.64,410.4" fill="#f0332d" stroke="#0c0c0c" stroke-width="1.3" stroke-linejoin="round"/>
<polygon points="248.04,405.78 254.64,410.4 267.14,407.42 260.54,402.8" fill="#f23a34" stroke="#0c0c0c" stroke-width="1.3" stroke-linejoin="round"/>
<path d="M255.44 411.9L266.34 463.82M248.84 407.28L253.84 466.3" stroke="#fff" stroke-opacity="0.22" stroke-width="0.6" fill="none"/>
<polygon points="223.42,469.05 230.02,473.67 230.02,400.5 223.42,395.88" fill="#ea2f2a" stroke="#0c0c0c" stroke-width="1.3" stroke-linejoin="round"/>
<polygon points="230.02,473.67 242.52,470.69 242.52,397.52 230.02,400.5" fill="#f0332d" stroke="#0c0c0c" stroke-width="1.3" stroke-linejoin="round"/>
<polygon points="223.42,395.88 230.02,400.5 242.52,397.52 235.92,392.9" fill="#f23a34" stroke="#0c0c0c" stroke-width="1.3" stroke-linejoin="round"/>
<path d="M230.82 402L241.72 469.69M224.22 397.38L229.22 472.17" stroke="#fff" stroke-opacity="0.22" stroke-width="0.6" fill="none"/>
<polygon points="198.8,474.92 205.4,479.54 205.4,409.5 198.8,404.88" fill="#ea2f2a" stroke="#0c0c0c" stroke-width="1.3" stroke-linejoin="round"/>
<polygon points="205.4,479.54 217.9,476.56 217.9,406.52 205.4,409.5" fill="#f0332d" stroke="#0c0c0c" stroke-width="1.3" stroke-linejoin="round"/>
<polygon points="198.8,404.88 205.4,409.5 217.9,406.52 211.3,401.9" fill="#f23a34" stroke="#0c0c0c" stroke-width="1.3" stroke-linejoin="round"/>
<path d="M206.2 411L217.1 475.56M199.6 406.38L204.6 478.04" stroke="#fff" stroke-opacity="0.22" stroke-width="0.6" fill="none"/>
<polygon points="174.18,480.79 180.78,485.41 180.78,422.2 174.18,417.58" fill="#ea2f2a" stroke="#0c0c0c" stroke-width="1.3" stroke-linejoin="round"/>
<polygon points="180.78,485.41 193.28,482.43 193.28,419.22 180.78,422.2" fill="#f0332d" stroke="#0c0c0c" stroke-width="1.3" stroke-linejoin="round"/>
<polygon points="174.18,417.58 180.78,422.2 193.28,419.22 186.68,414.6" fill="#f23a34" stroke="#0c0c0c" stroke-width="1.3" stroke-linejoin="round"/>
<path d="M181.58 423.7L192.48 481.43M174.98 419.08L179.98 483.91" stroke="#fff" stroke-opacity="0.22" stroke-width="0.6" fill="none"/>
<polygon points="149.56,486.66 156.16,491.28 156.16,431 149.56,426.38" fill="#ea2f2a" stroke="#0c0c0c" stroke-width="1.3" stroke-linejoin="round"/>
<polygon points="156.16,491.28 168.66,488.3 168.66,428.02 156.16,431" fill="#f0332d" stroke="#0c0c0c" stroke-width="1.3" stroke-linejoin="round"/>
<polygon points="149.56,426.38 156.16,431 168.66,428.02 162.06,423.4" fill="#f23a34" stroke="#0c0c0c" stroke-width="1.3" stroke-linejoin="round"/>
<path d="M156.96 432.5L167.86 487.3M150.36 427.88L155.36 489.78" stroke="#fff" stroke-opacity="0.22" stroke-width="0.6" fill="none"/>
<polygon points="124.94,492.54 131.54,497.16 131.54,445.4 124.94,440.78" fill="#ea2f2a" stroke="#0c0c0c" stroke-width="1.3" stroke-linejoin="round"/>
<polygon points="131.54,497.16 144.04,494.18 144.04,442.42 131.54,445.4" fill="#f0332d" stroke="#0c0c0c" stroke-width="1.3" stroke-linejoin="round"/>
<polygon points="124.94,440.78 131.54,445.4 144.04,442.42 137.44,437.8" fill="#f23a34" stroke="#0c0c0c" stroke-width="1.3" stroke-linejoin="round"/>
<path d="M132.34 446.9L143.24 493.18M125.74 442.28L130.74 495.66" stroke="#fff" stroke-opacity="0.22" stroke-width="0.6" fill="none"/>
<polygon points="100.32,498.41 106.92,503.03 106.92,457 100.32,452.38" fill="#ea2f2a" stroke="#0c0c0c" stroke-width="1.3" stroke-linejoin="round"/>
<polygon points="106.92,503.03 119.42,500.05 119.42,454.02 106.92,457" fill="#f0332d" stroke="#0c0c0c" stroke-width="1.3" stroke-linejoin="round"/>
<polygon points="100.32,452.38 106.92,457 119.42,454.02 112.82,449.4" fill="#f23a34" stroke="#0c0c0c" stroke-width="1.3" stroke-linejoin="round"/>
<path d="M107.72 458.5L118.62 499.05M101.12 453.88L106.12 501.53" stroke="#fff" stroke-opacity="0.22" stroke-width="0.6" fill="none"/>
<polygon points="75.7,504.28 82.3,508.9 82.3,472.3 75.7,467.68" fill="#ea2f2a" stroke="#0c0c0c" stroke-width="1.3" stroke-linejoin="round"/>
<polygon points="82.3,508.9 94.8,505.92 94.8,469.32 82.3,472.3" fill="#f0332d" stroke="#0c0c0c" stroke-width="1.3" stroke-linejoin="round"/>
<polygon points="75.7,467.68 82.3,472.3 94.8,469.32 88.2,464.7" fill="#f23a34" stroke="#0c0c0c" stroke-width="1.3" stroke-linejoin="round"/>
<path d="M83.1 473.8L94 504.92M76.5 469.18L81.5 507.4" stroke="#fff" stroke-opacity="0.22" stroke-width="0.6" fill="none"/>
<polygon points="287.26,467.25 293.66,471.73 293.66,418.6 287.26,414.12" fill="#2858bc" stroke="#0c0c0c" stroke-width="1.3" stroke-linejoin="round"/>
<polygon points="293.66,471.73 306.26,468.7 306.26,415.56 293.66,418.6" fill="#2c5fc6" stroke="#0c0c0c" stroke-width="1.3" stroke-linejoin="round"/>
<polygon points="287.26,414.12 293.66,418.6 306.26,415.56 299.86,411.08" fill="#2c5ec4" stroke="#0c0c0c" stroke-width="1.3" stroke-linejoin="round"/>
<path d="M294.46 420.1L305.46 467.7M288.06 415.62L292.86 470.23" stroke="#fff" stroke-opacity="0.22" stroke-width="0.6" fill="none"/>
<polygon points="262.64,473.19 269.04,477.67 269.04,420.7 262.64,416.22" fill="#2858bc" stroke="#0c0c0c" stroke-width="1.3" stroke-linejoin="round"/>
<polygon points="269.04,477.67 281.64,474.63 281.64,417.66 269.04,420.7" fill="#2c5fc6" stroke="#0c0c0c" stroke-width="1.3" stroke-linejoin="round"/>
<polygon points="262.64,416.22 269.04,420.7 281.64,417.66 275.24,413.18" fill="#2c5ec4" stroke="#0c0c0c" stroke-width="1.3" stroke-linejoin="round"/>
<path d="M269.84 422.2L280.84 473.63M263.44 417.72L268.24 476.17" stroke="#fff" stroke-opacity="0.22" stroke-width="0.6" fill="none"/>
<polygon points="238.02,479.12 244.42,483.6 244.42,421.5 238.02,417.02" fill="#2858bc" stroke="#0c0c0c" stroke-width="1.3" stroke-linejoin="round"/>
<polygon points="244.42,483.6 257.02,480.56 257.02,418.46 244.42,421.5" fill="#2c5fc6" stroke="#0c0c0c" stroke-width="1.3" stroke-linejoin="round"/>
<polygon points="238.02,417.02 244.42,421.5 257.02,418.46 250.62,413.98" fill="#2c5ec4" stroke="#0c0c0c" stroke-width="1.3" stroke-linejoin="round"/>
<path d="M245.22 423L256.22 479.56M238.82 418.52L243.62 482.1" stroke="#fff" stroke-opacity="0.22" stroke-width="0.6" fill="none"/>
<polygon points="213.4,485.05 219.8,489.53 219.8,418.8 213.4,414.32" fill="#2858bc" stroke="#0c0c0c" stroke-width="1.3" stroke-linejoin="round"/>
<polygon points="219.8,489.53 232.4,486.5 232.4,415.76 219.8,418.8" fill="#2c5fc6" stroke="#0c0c0c" stroke-width="1.3" stroke-linejoin="round"/>
<polygon points="213.4,414.32 219.8,418.8 232.4,415.76 226,411.28" fill="#2c5ec4" stroke="#0c0c0c" stroke-width="1.3" stroke-linejoin="round"/>
<path d="M220.6 420.3L231.6 485.5M214.2 415.82L219 488.03" stroke="#fff" stroke-opacity="0.22" stroke-width="0.6" fill="none"/>
<polygon points="188.78,490.99 195.18,495.47 195.18,428.7 188.78,424.22" fill="#2858bc" stroke="#0c0c0c" stroke-width="1.3" stroke-linejoin="round"/>
<polygon points="195.18,495.47 207.78,492.43 207.78,425.66 195.18,428.7" fill="#2c5fc6" stroke="#0c0c0c" stroke-width="1.3" stroke-linejoin="round"/>
<polygon points="188.78,424.22 195.18,428.7 207.78,425.66 201.38,421.18" fill="#2c5ec4" stroke="#0c0c0c" stroke-width="1.3" stroke-linejoin="round"/>
<path d="M195.98 430.2L206.98 491.43M189.58 425.72L194.38 493.97" stroke="#fff" stroke-opacity="0.22" stroke-width="0.6" fill="none"/>
<polygon points="164.16,496.92 170.56,501.4 170.56,440.4 164.16,435.92" fill="#2858bc" stroke="#0c0c0c" stroke-width="1.3" stroke-linejoin="round"/>
<polygon points="170.56,501.4 183.16,498.36 183.16,437.36 170.56,440.4" fill="#2c5fc6" stroke="#0c0c0c" stroke-width="1.3" stroke-linejoin="round"/>
<polygon points="164.16,435.92 170.56,440.4 183.16,437.36 176.76,432.88" fill="#2c5ec4" stroke="#0c0c0c" stroke-width="1.3" stroke-linejoin="round"/>
<path d="M171.36 441.9L182.36 497.36M164.96 437.42L169.76 499.9" stroke="#fff" stroke-opacity="0.22" stroke-width="0.6" fill="none"/>
<polygon points="139.54,502.85 145.94,507.33 145.94,451.6 139.54,447.12" fill="#2858bc" stroke="#0c0c0c" stroke-width="1.3" stroke-linejoin="round"/>
<polygon points="145.94,507.33 158.54,504.3 158.54,448.56 145.94,451.6" fill="#2c5fc6" stroke="#0c0c0c" stroke-width="1.3" stroke-linejoin="round"/>
<polygon points="139.54,447.12 145.94,451.6 158.54,448.56 152.14,444.08" fill="#2c5ec4" stroke="#0c0c0c" stroke-width="1.3" stroke-linejoin="round"/>
<path d="M146.74 453.1L157.74 503.3M140.34 448.62L145.14 505.83" stroke="#fff" stroke-opacity="0.22" stroke-width="0.6" fill="none"/>
<polygon points="114.92,508.79 121.32,513.27 121.32,468.3 114.92,463.82" fill="#2858bc" stroke="#0c0c0c" stroke-width="1.3" stroke-linejoin="round"/>
<polygon points="121.32,513.27 133.92,510.23 133.92,465.26 121.32,468.3" fill="#2c5fc6" stroke="#0c0c0c" stroke-width="1.3" stroke-linejoin="round"/>
<polygon points="114.92,463.82 121.32,468.3 133.92,465.26 127.52,460.78" fill="#2c5ec4" stroke="#0c0c0c" stroke-width="1.3" stroke-linejoin="round"/>
<path d="M122.12 469.8L133.12 509.23M115.72 465.32L120.52 511.77" stroke="#fff" stroke-opacity="0.22" stroke-width="0.6" fill="none"/>
<polygon points="90.3,514.72 96.7,519.2 96.7,481.7 90.3,477.22" fill="#2858bc" stroke="#0c0c0c" stroke-width="1.3" stroke-linejoin="round"/>
<polygon points="96.7,519.2 109.3,516.16 109.3,478.66 96.7,481.7" fill="#2c5fc6" stroke="#0c0c0c" stroke-width="1.3" stroke-linejoin="round"/>
<polygon points="90.3,477.22 96.7,481.7 109.3,478.66 102.9,474.18" fill="#2c5ec4" stroke="#0c0c0c" stroke-width="1.3" stroke-linejoin="round"/>
<path d="M97.5 483.2L108.5 515.16M91.1 478.72L95.9 517.7" stroke="#fff" stroke-opacity="0.22" stroke-width="0.6" fill="none"/>
<polygon points="300.86,478.29 307.86,483.19 307.86,482.49 300.86,477.59" fill="#79ca3f" stroke="#0c0c0c" stroke-width="1.3" stroke-linejoin="round"/>
<polygon points="307.86,483.19 319.26,480.44 319.26,479.74 307.86,482.49" fill="#7fd045" stroke="#0c0c0c" stroke-width="1.3" stroke-linejoin="round"/>
<polygon points="300.86,477.59 307.86,482.49 319.26,479.74 312.26,474.84" fill="#82d249" stroke="#0c0c0c" stroke-width="1.3" stroke-linejoin="round"/>
<polygon points="276.24,484.25 283.24,489.15 283.24,488.45 276.24,483.55" fill="#79ca3f" stroke="#0c0c0c" stroke-width="1.3" stroke-linejoin="round"/>
<polygon points="283.24,489.15 294.64,486.39 294.64,485.69 283.24,488.45" fill="#7fd045" stroke="#0c0c0c" stroke-width="1.3" stroke-linejoin="round"/>
<polygon points="276.24,483.55 283.24,488.45 294.64,485.69 287.64,480.79" fill="#82d249" stroke="#0c0c0c" stroke-width="1.3" stroke-linejoin="round"/>
<polygon points="251.62,490.2 258.62,495.1 258.62,494.4 251.62,489.5" fill="#79ca3f" stroke="#0c0c0c" stroke-width="1.3" stroke-linejoin="round"/>
<polygon points="258.62,495.1 270.02,492.34 270.02,491.64 258.62,494.4" fill="#7fd045" stroke="#0c0c0c" stroke-width="1.3" stroke-linejoin="round"/>
<polygon points="251.62,489.5 258.62,494.4 270.02,491.64 263.02,486.74" fill="#82d249" stroke="#0c0c0c" stroke-width="1.3" stroke-linejoin="round"/>
<polygon points="227,496.15 234,501.05 234,446.5 227,441.6" fill="#79ca3f" stroke="#0c0c0c" stroke-width="1.3" stroke-linejoin="round"/>
<polygon points="234,501.05 245.4,498.29 245.4,443.74 234,446.5" fill="#7fd045" stroke="#0c0c0c" stroke-width="1.3" stroke-linejoin="round"/>
<polygon points="227,441.6 234,446.5 245.4,443.74 238.4,438.84" fill="#82d249" stroke="#0c0c0c" stroke-width="1.3" stroke-linejoin="round"/>
<path d="M234.8 448L244.6 497.29M227.8 443.1L233.2 499.55" stroke="#fff" stroke-opacity="0.22" stroke-width="0.6" fill="none"/>
<polygon points="202.38,502.1 209.38,507 209.38,446.3 202.38,441.4" fill="#79ca3f" stroke="#0c0c0c" stroke-width="1.3" stroke-linejoin="round"/>
<polygon points="209.38,507 220.78,504.24 220.78,443.54 209.38,446.3" fill="#7fd045" stroke="#0c0c0c" stroke-width="1.3" stroke-linejoin="round"/>
<polygon points="202.38,441.4 209.38,446.3 220.78,443.54 213.78,438.64" fill="#82d249" stroke="#0c0c0c" stroke-width="1.3" stroke-linejoin="round"/>
<path d="M210.18 447.8L219.98 503.24M203.18 442.9L208.58 505.5" stroke="#fff" stroke-opacity="0.22" stroke-width="0.6" fill="none"/>
<polygon points="177.76,508.05 184.76,512.95 184.76,438 177.76,433.1" fill="#79ca3f" stroke="#0c0c0c" stroke-width="1.3" stroke-linejoin="round"/>
<polygon points="184.76,512.95 196.16,510.19 196.16,435.24 184.76,438" fill="#7fd045" stroke="#0c0c0c" stroke-width="1.3" stroke-linejoin="round"/>
<polygon points="177.76,433.1 184.76,438 196.16,435.24 189.16,430.34" fill="#82d249" stroke="#0c0c0c" stroke-width="1.3" stroke-linejoin="round"/>
<path d="M185.56 439.5L195.36 509.19M178.56 434.6L183.96 511.45" stroke="#fff" stroke-opacity="0.22" stroke-width="0.6" fill="none"/>
<polygon points="153.14,514 160.14,518.9 160.14,453.6 153.14,448.7" fill="#79ca3f" stroke="#0c0c0c" stroke-width="1.3" stroke-linejoin="round"/>
<polygon points="160.14,518.9 171.54,516.14 171.54,450.84 160.14,453.6" fill="#7fd045" stroke="#0c0c0c" stroke-width="1.3" stroke-linejoin="round"/>
<polygon points="153.14,448.7 160.14,453.6 171.54,450.84 164.54,445.94" fill="#82d249" stroke="#0c0c0c" stroke-width="1.3" stroke-linejoin="round"/>
<path d="M160.94 455.1L170.74 515.14M153.94 450.2L159.34 517.4" stroke="#fff" stroke-opacity="0.22" stroke-width="0.6" fill="none"/>
<polygon points="128.52,519.95 135.52,524.85 135.52,473.4 128.52,468.5" fill="#79ca3f" stroke="#0c0c0c" stroke-width="1.3" stroke-linejoin="round"/>
<polygon points="135.52,524.85 146.92,522.09 146.92,470.64 135.52,473.4" fill="#7fd045" stroke="#0c0c0c" stroke-width="1.3" stroke-linejoin="round"/>
<polygon points="128.52,468.5 135.52,473.4 146.92,470.64 139.92,465.74" fill="#82d249" stroke="#0c0c0c" stroke-width="1.3" stroke-linejoin="round"/>
<path d="M136.32 474.9L146.12 521.09M129.32 470L134.72 523.35" stroke="#fff" stroke-opacity="0.22" stroke-width="0.6" fill="none"/>
<polygon points="103.9,525.9 110.9,530.8 110.9,492.5 103.9,487.6" fill="#79ca3f" stroke="#0c0c0c" stroke-width="1.3" stroke-linejoin="round"/>
<polygon points="110.9,530.8 122.3,528.04 122.3,489.74 110.9,492.5" fill="#7fd045" stroke="#0c0c0c" stroke-width="1.3" stroke-linejoin="round"/>
<polygon points="103.9,487.6 110.9,492.5 122.3,489.74 115.3,484.84" fill="#82d249" stroke="#0c0c0c" stroke-width="1.3" stroke-linejoin="round"/>
<path d="M111.7 494L121.5 527.04M104.7 489.1L110.1 529.3" stroke="#fff" stroke-opacity="0.22" stroke-width="0.6" fill="none"/>
<text x="126.6" y="541.35" font-size="7.7" text-anchor="middle" fill="#222" textLength="10.96" lengthAdjust="spacingAndGlyphs" stroke="#222" stroke-width="0.3">0h</text>
<text x="151.23" y="535.35" font-size="7.7" text-anchor="middle" fill="#222" textLength="16.44" lengthAdjust="spacingAndGlyphs" stroke="#222" stroke-width="0.3">12h</text>
<text x="175.86" y="529.35" font-size="7.7" text-anchor="middle" fill="#222" textLength="10.96" lengthAdjust="spacingAndGlyphs" stroke="#222" stroke-width="0.3">1d</text>
<text x="200.49" y="523.35" font-size="7.7" text-anchor="middle" fill="#222" textLength="10.96" lengthAdjust="spacingAndGlyphs" stroke="#222" stroke-width="0.3">3d</text>
<text x="225.12" y="517.35" font-size="7.7" text-anchor="middle" fill="#222" textLength="10.96" lengthAdjust="spacingAndGlyphs" stroke="#222" stroke-width="0.3">5d</text>
<text x="249.75" y="511.35" font-size="7.7" text-anchor="middle" fill="#222" textLength="10.96" lengthAdjust="spacingAndGlyphs" stroke="#222" stroke-width="0.3">7d</text>
<text x="274.38" y="505.35" font-size="7.7" text-anchor="middle" fill="#222" textLength="16.44" lengthAdjust="spacingAndGlyphs" stroke="#222" stroke-width="0.3">14d</text>
<text x="299.01" y="499.35" font-size="7.7" text-anchor="middle" fill="#222" textLength="16.44" lengthAdjust="spacingAndGlyphs" stroke="#222" stroke-width="0.3">21d</text>
<text x="323.64" y="493.35" font-size="7.7" text-anchor="middle" fill="#222" textLength="16.44" lengthAdjust="spacingAndGlyphs" stroke="#222" stroke-width="0.3">28d</text>
<text x="229.6" y="532.05" font-size="7.7" text-anchor="middle" fill="#222" textLength="22" lengthAdjust="spacingAndGlyphs" stroke="#222" stroke-width="0.3">Time</text>
<text x="63.4" y="509.35" font-size="7.7" text-anchor="end" fill="#222" textLength="27.78" lengthAdjust="spacingAndGlyphs" stroke="#222" stroke-width="0.3">−80°C</text>
<text x="74.6" y="520.85" font-size="7.7" text-anchor="end" fill="#222" textLength="27.78" lengthAdjust="spacingAndGlyphs" stroke="#222" stroke-width="0.3">−40°C</text>
<text x="90.6" y="531.45" font-size="7.7" text-anchor="end" fill="#222" textLength="27.78" lengthAdjust="spacingAndGlyphs" stroke="#222" stroke-width="0.3">−20°C</text>
<text x="98.4" y="541.35" font-size="7.7" text-anchor="end" fill="#222" textLength="16.54" lengthAdjust="spacingAndGlyphs" stroke="#222" stroke-width="0.3">4°C</text>
<text x="0" y="2.75" font-size="7.7" text-anchor="middle" fill="#222" textLength="51" lengthAdjust="spacingAndGlyphs" stroke="#222" stroke-width="0.3" transform="translate(39.5 527.6) rotate(37.5) skewX(-12)">Temperature</text>
<text x="0" y="0" font-size="11.6" text-anchor="middle" fill="#222" textLength="99.5" lengthAdjust="spacingAndGlyphs" stroke="#222" stroke-width="0.35" transform="translate(21.5 453.5) rotate(-90)">Glucose absorbed (μmol/g)</text>
<text x="11.3" y="379.1" font-size="10.2" text-anchor="start" fill="#1c1c28" textLength="15.5" lengthAdjust="spacingAndGlyphs" font-weight="bold">(c)</text>
</g>
</svg>
</body></html>
